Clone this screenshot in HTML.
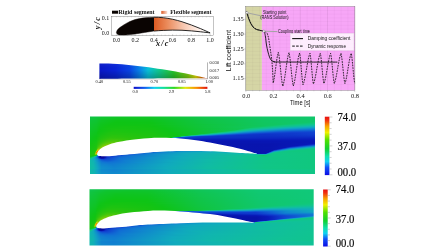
<!DOCTYPE html>
<html><head><meta charset="utf-8"><title>Figure</title>
<style>
html,body{margin:0;padding:0;background:#fff;}
body{width:448px;height:252px;overflow:hidden;}
svg{display:block;filter:blur(0.45px);}
text{font-family:"Liberation Serif",serif;fill:#111;}
.ss{font-family:"Liberation Sans",sans-serif;}
</style></head><body>
<svg width="448" height="252" viewBox="0 0 448 252">
<defs>
<linearGradient id="rb" x1="0" y1="0" x2="0" y2="1">
<stop offset="0" stop-color="#e81010"/><stop offset="0.06" stop-color="#f03010"/><stop offset="0.16" stop-color="#f8a000"/><stop offset="0.27" stop-color="#f0f000"/>
<stop offset="0.40" stop-color="#50e000"/><stop offset="0.55" stop-color="#10d030"/><stop offset="0.68" stop-color="#10e0b0"/><stop offset="0.77" stop-color="#10d0f0"/>
<stop offset="0.87" stop-color="#1050f8"/><stop offset="1" stop-color="#0c0ce4"/>
</linearGradient>
<linearGradient id="rbh" x1="0" y1="0" x2="1" y2="0">
<stop offset="0" stop-color="#1010c8"/><stop offset="0.15" stop-color="#1060f0"/><stop offset="0.28" stop-color="#10d0f0"/><stop offset="0.4" stop-color="#10e0a0"/>
<stop offset="0.55" stop-color="#30d820"/><stop offset="0.7" stop-color="#e0e810"/><stop offset="0.85" stop-color="#f89000"/><stop offset="1" stop-color="#e01010"/>
</linearGradient>
<linearGradient id="wedge" gradientUnits="userSpaceOnUse" x1="99.4" y1="0" x2="207.4" y2="0">
<stop offset="0" stop-color="#0818c8"/><stop offset="0.15" stop-color="#0824d8"/><stop offset="0.28" stop-color="#0844e4"/><stop offset="0.38" stop-color="#0888e8"/><stop offset="0.45" stop-color="#08c0d8"/>
<stop offset="0.55" stop-color="#10c890"/><stop offset="0.69" stop-color="#28c828"/><stop offset="0.82" stop-color="#80d010"/><stop offset="0.895" stop-color="#e8e008"/><stop offset="0.94" stop-color="#f08808"/><stop offset="1" stop-color="#d81808"/>
</linearGradient>
<linearGradient id="wedgeshade" x1="0" y1="0" x2="0" y2="1">
<stop offset="0" stop-color="#fff" stop-opacity="0.05"/><stop offset="0.4" stop-color="#000" stop-opacity="0"/><stop offset="1" stop-color="#000" stop-opacity="0.25"/>
</linearGradient>
<linearGradient id="flex" gradientUnits="userSpaceOnUse" x1="153.9" y1="0" x2="206" y2="0">
<stop offset="0" stop-color="#dc5a22"/><stop offset="0.25" stop-color="#ea8a5a"/><stop offset="0.55" stop-color="#f6c4ac"/><stop offset="0.8" stop-color="#fde8de"/><stop offset="1" stop-color="#fff"/>
</linearGradient>
<filter id="b1" x="-50%" y="-50%" width="200%" height="200%"><feGaussianBlur stdDeviation="1"/></filter>
<filter id="b15" x="-50%" y="-50%" width="200%" height="200%"><feGaussianBlur stdDeviation="1.5"/></filter>
<filter id="b2" x="-50%" y="-50%" width="200%" height="200%"><feGaussianBlur stdDeviation="2"/></filter>
<filter id="b3" x="-50%" y="-50%" width="200%" height="200%"><feGaussianBlur stdDeviation="3"/></filter>
<filter id="b5" x="-50%" y="-50%" width="200%" height="200%"><feGaussianBlur stdDeviation="5"/></filter>
<filter id="b8" x="-50%" y="-50%" width="200%" height="200%"><feGaussianBlur stdDeviation="8"/></filter>
</defs>

<g id="foilplot">
<clipPath id="cr"><rect x="0" y="0" width="153.88" height="60"/></clipPath>
<clipPath id="cf"><rect x="153.88" y="0" width="100" height="60"/></clipPath>
<path d="M116.40,32.43 C116.56,32.05 116.87,30.83 117.34,30.11 C117.81,29.39 118.27,28.87 119.21,28.09 C120.15,27.32 121.55,26.36 122.96,25.46 C124.36,24.56 125.61,23.65 127.64,22.67 C129.67,21.69 132.33,20.37 135.14,19.57 C137.95,18.77 141.39,18.25 144.51,17.86 C147.63,17.48 150.76,17.27 153.88,17.24 C157.00,17.22 160.13,17.37 163.25,17.71 C166.37,18.05 169.50,18.59 172.62,19.26 C175.74,19.93 178.87,20.78 181.99,21.74 C185.11,22.70 188.24,23.83 191.36,24.99 C194.48,26.16 197.61,27.40 200.73,28.71 C203.85,30.03 208.54,32.20 210.10,32.90 L210.10,32.90 C208.54,32.72 203.85,32.15 200.73,31.81 C197.61,31.48 194.48,31.14 191.36,30.88 C188.24,30.63 185.11,30.39 181.99,30.26 C178.87,30.14 175.74,30.08 172.62,30.11 C169.50,30.14 166.37,30.26 163.25,30.42 C160.13,30.57 157.00,30.70 153.88,31.04 C150.76,31.38 147.63,31.94 144.51,32.43 C141.39,32.93 138.26,33.57 135.14,33.98 C132.02,34.40 128.27,34.76 125.77,34.91 C123.27,35.07 121.55,35.04 120.15,34.91 C118.74,34.79 117.96,34.55 117.34,34.14 C116.71,33.73 116.56,32.72 116.40,32.43Z" fill="#0a0402" stroke="#0a0402" stroke-width="0.5" clip-path="url(#cr)"/>
<path d="M116.40,32.43 C116.56,32.05 116.87,30.83 117.34,30.11 C117.81,29.39 118.27,28.87 119.21,28.09 C120.15,27.32 121.55,26.36 122.96,25.46 C124.36,24.56 125.61,23.65 127.64,22.67 C129.67,21.69 132.33,20.37 135.14,19.57 C137.95,18.77 141.39,18.25 144.51,17.86 C147.63,17.48 150.76,17.27 153.88,17.24 C157.00,17.22 160.13,17.37 163.25,17.71 C166.37,18.05 169.50,18.59 172.62,19.26 C175.74,19.93 178.87,20.78 181.99,21.74 C185.11,22.70 188.24,23.83 191.36,24.99 C194.48,26.16 197.61,27.40 200.73,28.71 C203.85,30.03 208.54,32.20 210.10,32.90 L210.10,32.90 C208.54,32.72 203.85,32.15 200.73,31.81 C197.61,31.48 194.48,31.14 191.36,30.88 C188.24,30.63 185.11,30.39 181.99,30.26 C178.87,30.14 175.74,30.08 172.62,30.11 C169.50,30.14 166.37,30.26 163.25,30.42 C160.13,30.57 157.00,30.70 153.88,31.04 C150.76,31.38 147.63,31.94 144.51,32.43 C141.39,32.93 138.26,33.57 135.14,33.98 C132.02,34.40 128.27,34.76 125.77,34.91 C123.27,35.07 121.55,35.04 120.15,34.91 C118.74,34.79 117.96,34.55 117.34,34.14 C116.71,33.73 116.56,32.72 116.40,32.43Z" fill="url(#flex)" stroke="#111" stroke-width="0.9" clip-path="url(#cf)"/>
<rect x="111.20" y="16.50" width="102.40" height="19.00" fill="none" stroke="#555" stroke-width="0.35"/>
<line x1="116.40" y1="35.50" x2="116.40" y2="34.50" stroke="#555" stroke-width="0.3"/>
<text x="116.40" y="42.1" font-size="6" text-anchor="middle" fill="#444">0.0</text>
<line x1="135.14" y1="35.50" x2="135.14" y2="34.50" stroke="#555" stroke-width="0.3"/>
<text x="135.14" y="42.1" font-size="6" text-anchor="middle" fill="#444">0.2</text>
<line x1="153.88" y1="35.50" x2="153.88" y2="34.50" stroke="#555" stroke-width="0.3"/>
<text x="153.88" y="42.1" font-size="6" text-anchor="middle" fill="#444">0.4</text>
<line x1="172.62" y1="35.50" x2="172.62" y2="34.50" stroke="#555" stroke-width="0.3"/>
<text x="172.62" y="42.1" font-size="6" text-anchor="middle" fill="#444">0.6</text>
<line x1="191.36" y1="35.50" x2="191.36" y2="34.50" stroke="#555" stroke-width="0.3"/>
<text x="191.36" y="42.1" font-size="6" text-anchor="middle" fill="#444">0.8</text>
<line x1="210.10" y1="35.50" x2="210.10" y2="34.50" stroke="#555" stroke-width="0.3"/>
<text x="210.10" y="42.1" font-size="6" text-anchor="middle" fill="#444">1.0</text>
<text x="109.2" y="19.9" font-size="6" text-anchor="end" fill="#444">0.1</text>
<line x1="112.65" y1="35.50" x2="112.65" y2="34.70" stroke="#777" stroke-width="0.3"/>
<line x1="112.65" y1="16.50" x2="112.65" y2="17.30" stroke="#777" stroke-width="0.3"/>
<line x1="116.40" y1="35.50" x2="116.40" y2="34.70" stroke="#777" stroke-width="0.3"/>
<line x1="116.40" y1="16.50" x2="116.40" y2="17.30" stroke="#777" stroke-width="0.3"/>
<line x1="120.15" y1="35.50" x2="120.15" y2="34.70" stroke="#777" stroke-width="0.3"/>
<line x1="120.15" y1="16.50" x2="120.15" y2="17.30" stroke="#777" stroke-width="0.3"/>
<line x1="123.90" y1="35.50" x2="123.90" y2="34.70" stroke="#777" stroke-width="0.3"/>
<line x1="123.90" y1="16.50" x2="123.90" y2="17.30" stroke="#777" stroke-width="0.3"/>
<line x1="127.64" y1="35.50" x2="127.64" y2="34.70" stroke="#777" stroke-width="0.3"/>
<line x1="127.64" y1="16.50" x2="127.64" y2="17.30" stroke="#777" stroke-width="0.3"/>
<line x1="131.39" y1="35.50" x2="131.39" y2="34.70" stroke="#777" stroke-width="0.3"/>
<line x1="131.39" y1="16.50" x2="131.39" y2="17.30" stroke="#777" stroke-width="0.3"/>
<line x1="135.14" y1="35.50" x2="135.14" y2="34.70" stroke="#777" stroke-width="0.3"/>
<line x1="135.14" y1="16.50" x2="135.14" y2="17.30" stroke="#777" stroke-width="0.3"/>
<line x1="138.89" y1="35.50" x2="138.89" y2="34.70" stroke="#777" stroke-width="0.3"/>
<line x1="138.89" y1="16.50" x2="138.89" y2="17.30" stroke="#777" stroke-width="0.3"/>
<line x1="142.64" y1="35.50" x2="142.64" y2="34.70" stroke="#777" stroke-width="0.3"/>
<line x1="142.64" y1="16.50" x2="142.64" y2="17.30" stroke="#777" stroke-width="0.3"/>
<line x1="146.38" y1="35.50" x2="146.38" y2="34.70" stroke="#777" stroke-width="0.3"/>
<line x1="146.38" y1="16.50" x2="146.38" y2="17.30" stroke="#777" stroke-width="0.3"/>
<line x1="150.13" y1="35.50" x2="150.13" y2="34.70" stroke="#777" stroke-width="0.3"/>
<line x1="150.13" y1="16.50" x2="150.13" y2="17.30" stroke="#777" stroke-width="0.3"/>
<line x1="153.88" y1="35.50" x2="153.88" y2="34.70" stroke="#777" stroke-width="0.3"/>
<line x1="153.88" y1="16.50" x2="153.88" y2="17.30" stroke="#777" stroke-width="0.3"/>
<line x1="157.63" y1="35.50" x2="157.63" y2="34.70" stroke="#777" stroke-width="0.3"/>
<line x1="157.63" y1="16.50" x2="157.63" y2="17.30" stroke="#777" stroke-width="0.3"/>
<line x1="161.38" y1="35.50" x2="161.38" y2="34.70" stroke="#777" stroke-width="0.3"/>
<line x1="161.38" y1="16.50" x2="161.38" y2="17.30" stroke="#777" stroke-width="0.3"/>
<line x1="165.12" y1="35.50" x2="165.12" y2="34.70" stroke="#777" stroke-width="0.3"/>
<line x1="165.12" y1="16.50" x2="165.12" y2="17.30" stroke="#777" stroke-width="0.3"/>
<line x1="168.87" y1="35.50" x2="168.87" y2="34.70" stroke="#777" stroke-width="0.3"/>
<line x1="168.87" y1="16.50" x2="168.87" y2="17.30" stroke="#777" stroke-width="0.3"/>
<line x1="172.62" y1="35.50" x2="172.62" y2="34.70" stroke="#777" stroke-width="0.3"/>
<line x1="172.62" y1="16.50" x2="172.62" y2="17.30" stroke="#777" stroke-width="0.3"/>
<line x1="176.37" y1="35.50" x2="176.37" y2="34.70" stroke="#777" stroke-width="0.3"/>
<line x1="176.37" y1="16.50" x2="176.37" y2="17.30" stroke="#777" stroke-width="0.3"/>
<line x1="180.12" y1="35.50" x2="180.12" y2="34.70" stroke="#777" stroke-width="0.3"/>
<line x1="180.12" y1="16.50" x2="180.12" y2="17.30" stroke="#777" stroke-width="0.3"/>
<line x1="183.86" y1="35.50" x2="183.86" y2="34.70" stroke="#777" stroke-width="0.3"/>
<line x1="183.86" y1="16.50" x2="183.86" y2="17.30" stroke="#777" stroke-width="0.3"/>
<line x1="187.61" y1="35.50" x2="187.61" y2="34.70" stroke="#777" stroke-width="0.3"/>
<line x1="187.61" y1="16.50" x2="187.61" y2="17.30" stroke="#777" stroke-width="0.3"/>
<line x1="191.36" y1="35.50" x2="191.36" y2="34.70" stroke="#777" stroke-width="0.3"/>
<line x1="191.36" y1="16.50" x2="191.36" y2="17.30" stroke="#777" stroke-width="0.3"/>
<line x1="195.11" y1="35.50" x2="195.11" y2="34.70" stroke="#777" stroke-width="0.3"/>
<line x1="195.11" y1="16.50" x2="195.11" y2="17.30" stroke="#777" stroke-width="0.3"/>
<line x1="198.86" y1="35.50" x2="198.86" y2="34.70" stroke="#777" stroke-width="0.3"/>
<line x1="198.86" y1="16.50" x2="198.86" y2="17.30" stroke="#777" stroke-width="0.3"/>
<line x1="202.60" y1="35.50" x2="202.60" y2="34.70" stroke="#777" stroke-width="0.3"/>
<line x1="202.60" y1="16.50" x2="202.60" y2="17.30" stroke="#777" stroke-width="0.3"/>
<line x1="206.35" y1="35.50" x2="206.35" y2="34.70" stroke="#777" stroke-width="0.3"/>
<line x1="206.35" y1="16.50" x2="206.35" y2="17.30" stroke="#777" stroke-width="0.3"/>
<line x1="210.10" y1="35.50" x2="210.10" y2="34.70" stroke="#777" stroke-width="0.3"/>
<line x1="210.10" y1="16.50" x2="210.10" y2="17.30" stroke="#777" stroke-width="0.3"/>
<text x="109.2" y="35.1" font-size="6" text-anchor="end" fill="#444">0.0</text>
<text x="162.8" y="45.9" font-size="8.2" letter-spacing="1.2" text-anchor="middle" font-weight="bold" font-style="italic" fill="#222">x/c</text>
<text transform="translate(100.3,22.6) rotate(-90)" font-size="8.2" letter-spacing="1.2" text-anchor="middle" font-weight="bold" font-style="italic" fill="#222">y/c</text>
<rect x="112" y="10.7" width="6.2" height="3" fill="#0a0402"/>
<text x="118.6" y="13.9" font-size="5.7" font-weight="bold" fill="#333" textLength="36" lengthAdjust="spacingAndGlyphs">Rigid segment</text>
<linearGradient id="lg2" x1="0" y1="0" x2="1" y2="0"><stop offset="0" stop-color="#dc5a22"/><stop offset="1" stop-color="#fbe0d4"/></linearGradient>
<rect x="161.3" y="10.9" width="6" height="3" fill="url(#lg2)"/>
<text x="170.3" y="13.9" font-size="5.7" font-weight="bold" fill="#333" textLength="41" lengthAdjust="spacingAndGlyphs">Flexible segment</text>
</g>
<g id="wedge">
<path d="M99.40,63.40 C100.90,63.44 105.39,63.50 108.38,63.62 C111.38,63.73 114.37,63.91 117.37,64.10 C120.36,64.30 123.36,64.54 126.35,64.80 C129.34,65.07 132.34,65.36 135.33,65.69 C138.33,66.01 141.32,66.36 144.32,66.74 C147.31,67.12 150.31,67.53 153.30,67.96 C156.29,68.39 159.29,68.84 162.28,69.32 C165.28,69.80 168.27,70.30 171.27,70.83 C174.26,71.35 177.26,71.90 180.25,72.48 C183.24,73.05 186.24,73.64 189.23,74.26 C192.23,74.87 195.22,75.51 198.22,76.17 C201.21,76.82 205.70,77.86 207.20,78.20 L207.20,78.40 C205.70,78.40 201.21,78.38 198.22,78.37 C195.22,78.36 192.23,78.35 189.23,78.35 C186.24,78.34 183.24,78.34 180.25,78.33 C177.26,78.33 174.26,78.33 171.27,78.33 C168.27,78.34 165.28,78.34 162.28,78.35 C159.29,78.36 156.29,78.37 153.30,78.38 C150.31,78.39 147.31,78.41 144.32,78.43 C141.32,78.45 138.33,78.47 135.33,78.50 C132.34,78.53 129.34,78.55 126.35,78.58 C123.36,78.61 120.36,78.65 117.37,78.68 C114.37,78.72 111.38,78.75 108.38,78.79 C105.39,78.82 100.90,78.88 99.40,78.90Z" fill="url(#wedge)"/>
<path d="M99.40,63.40 C100.90,63.44 105.39,63.50 108.38,63.62 C111.38,63.73 114.37,63.91 117.37,64.10 C120.36,64.30 123.36,64.54 126.35,64.80 C129.34,65.07 132.34,65.36 135.33,65.69 C138.33,66.01 141.32,66.36 144.32,66.74 C147.31,67.12 150.31,67.53 153.30,67.96 C156.29,68.39 159.29,68.84 162.28,69.32 C165.28,69.80 168.27,70.30 171.27,70.83 C174.26,71.35 177.26,71.90 180.25,72.48 C183.24,73.05 186.24,73.64 189.23,74.26 C192.23,74.87 195.22,75.51 198.22,76.17 C201.21,76.82 205.70,77.86 207.20,78.20 L207.20,78.40 C205.70,78.40 201.21,78.38 198.22,78.37 C195.22,78.36 192.23,78.35 189.23,78.35 C186.24,78.34 183.24,78.34 180.25,78.33 C177.26,78.33 174.26,78.33 171.27,78.33 C168.27,78.34 165.28,78.34 162.28,78.35 C159.29,78.36 156.29,78.37 153.30,78.38 C150.31,78.39 147.31,78.41 144.32,78.43 C141.32,78.45 138.33,78.47 135.33,78.50 C132.34,78.53 129.34,78.55 126.35,78.58 C123.36,78.61 120.36,78.65 117.37,78.68 C114.37,78.72 111.38,78.75 108.38,78.79 C105.39,78.82 100.90,78.88 99.40,78.90Z" fill="url(#wedgeshade)"/>
<line x1="207.5" y1="62.4" x2="207.5" y2="79" stroke="#444" stroke-width="0.4"/>
<line x1="99.4" y1="79.2" x2="207.5" y2="79.2" stroke="#666" stroke-width="0.25"/>
<text x="99.4" y="83" font-size="4.4" text-anchor="middle" fill="#222">0.40</text>
<text x="126.9" y="83" font-size="4.4" text-anchor="middle" fill="#222">0.55</text>
<text x="154.4" y="83" font-size="4.4" text-anchor="middle" fill="#222">0.70</text>
<text x="181.9" y="83" font-size="4.4" text-anchor="middle" fill="#222">0.85</text>
<text x="209.0" y="83" font-size="4.4" text-anchor="middle" fill="#222">1.00</text>
<text x="209.4" y="64.4" font-size="4.3" fill="#222">0.030</text>
<text x="209.4" y="71.6" font-size="4.3" fill="#222">0.017</text>
<text x="209.4" y="79.4" font-size="4.3" fill="#222">0.005</text>
<rect x="133.7" y="86.8" width="73.7" height="2.1" fill="url(#rbh)"/>
<text x="135.2" y="92.7" font-size="4.4" text-anchor="middle" fill="#222">0.0</text>
<text x="171.5" y="92.7" font-size="4.4" text-anchor="middle" fill="#222">2.9</text>
<text x="207.6" y="92.7" font-size="4.4" text-anchor="middle" fill="#222">5.8</text>
</g>
<g id="liftplot">
<rect x="245.70" y="6.40" width="16.20" height="83.90" fill="#d5d5a5"/>
<rect x="261.9" y="6.40" width="93.00" height="83.90" fill="#f7a6f7"/>
<line x1="245.90" y1="6.40" x2="245.90" y2="90.30" stroke="#503050" stroke-opacity="0.30" stroke-width="0.3"/>
<line x1="252.70" y1="6.40" x2="252.70" y2="90.30" stroke="#503050" stroke-opacity="0.10" stroke-width="0.3"/>
<line x1="259.50" y1="6.40" x2="259.50" y2="90.30" stroke="#503050" stroke-opacity="0.10" stroke-width="0.3"/>
<line x1="266.30" y1="6.40" x2="266.30" y2="90.30" stroke="#503050" stroke-opacity="0.10" stroke-width="0.3"/>
<line x1="273.10" y1="6.40" x2="273.10" y2="90.30" stroke="#503050" stroke-opacity="0.30" stroke-width="0.3"/>
<line x1="279.90" y1="6.40" x2="279.90" y2="90.30" stroke="#503050" stroke-opacity="0.10" stroke-width="0.3"/>
<line x1="286.70" y1="6.40" x2="286.70" y2="90.30" stroke="#503050" stroke-opacity="0.10" stroke-width="0.3"/>
<line x1="293.50" y1="6.40" x2="293.50" y2="90.30" stroke="#503050" stroke-opacity="0.10" stroke-width="0.3"/>
<line x1="300.30" y1="6.40" x2="300.30" y2="90.30" stroke="#503050" stroke-opacity="0.30" stroke-width="0.3"/>
<line x1="307.10" y1="6.40" x2="307.10" y2="90.30" stroke="#503050" stroke-opacity="0.10" stroke-width="0.3"/>
<line x1="313.90" y1="6.40" x2="313.90" y2="90.30" stroke="#503050" stroke-opacity="0.10" stroke-width="0.3"/>
<line x1="320.70" y1="6.40" x2="320.70" y2="90.30" stroke="#503050" stroke-opacity="0.10" stroke-width="0.3"/>
<line x1="327.50" y1="6.40" x2="327.50" y2="90.30" stroke="#503050" stroke-opacity="0.30" stroke-width="0.3"/>
<line x1="334.30" y1="6.40" x2="334.30" y2="90.30" stroke="#503050" stroke-opacity="0.10" stroke-width="0.3"/>
<line x1="341.10" y1="6.40" x2="341.10" y2="90.30" stroke="#503050" stroke-opacity="0.10" stroke-width="0.3"/>
<line x1="347.90" y1="6.40" x2="347.90" y2="90.30" stroke="#503050" stroke-opacity="0.10" stroke-width="0.3"/>
<line x1="354.70" y1="6.40" x2="354.70" y2="90.30" stroke="#503050" stroke-opacity="0.30" stroke-width="0.3"/>
<line x1="245.70" y1="84.64" x2="354.90" y2="84.64" stroke="#503050" stroke-opacity="0.10" stroke-width="0.3"/>
<line x1="245.70" y1="80.93" x2="354.90" y2="80.93" stroke="#503050" stroke-opacity="0.10" stroke-width="0.3"/>
<line x1="245.70" y1="77.22" x2="354.90" y2="77.22" stroke="#503050" stroke-opacity="0.10" stroke-width="0.3"/>
<line x1="245.70" y1="73.50" x2="354.90" y2="73.50" stroke="#503050" stroke-opacity="0.10" stroke-width="0.3"/>
<line x1="245.70" y1="69.79" x2="354.90" y2="69.79" stroke="#503050" stroke-opacity="0.10" stroke-width="0.3"/>
<line x1="245.70" y1="66.08" x2="354.90" y2="66.08" stroke="#503050" stroke-opacity="0.10" stroke-width="0.3"/>
<line x1="245.70" y1="62.37" x2="354.90" y2="62.37" stroke="#503050" stroke-opacity="0.10" stroke-width="0.3"/>
<line x1="245.70" y1="58.65" x2="354.90" y2="58.65" stroke="#503050" stroke-opacity="0.10" stroke-width="0.3"/>
<line x1="245.70" y1="54.94" x2="354.90" y2="54.94" stroke="#503050" stroke-opacity="0.10" stroke-width="0.3"/>
<line x1="245.70" y1="51.23" x2="354.90" y2="51.23" stroke="#503050" stroke-opacity="0.10" stroke-width="0.3"/>
<line x1="245.70" y1="47.52" x2="354.90" y2="47.52" stroke="#503050" stroke-opacity="0.10" stroke-width="0.3"/>
<line x1="245.70" y1="43.80" x2="354.90" y2="43.80" stroke="#503050" stroke-opacity="0.10" stroke-width="0.3"/>
<line x1="245.70" y1="40.09" x2="354.90" y2="40.09" stroke="#503050" stroke-opacity="0.10" stroke-width="0.3"/>
<line x1="245.70" y1="36.38" x2="354.90" y2="36.38" stroke="#503050" stroke-opacity="0.10" stroke-width="0.3"/>
<line x1="245.70" y1="32.67" x2="354.90" y2="32.67" stroke="#503050" stroke-opacity="0.10" stroke-width="0.3"/>
<line x1="245.70" y1="28.95" x2="354.90" y2="28.95" stroke="#503050" stroke-opacity="0.10" stroke-width="0.3"/>
<line x1="245.70" y1="25.24" x2="354.90" y2="25.24" stroke="#503050" stroke-opacity="0.10" stroke-width="0.3"/>
<line x1="245.70" y1="21.53" x2="354.90" y2="21.53" stroke="#503050" stroke-opacity="0.10" stroke-width="0.3"/>
<line x1="245.70" y1="17.82" x2="354.90" y2="17.82" stroke="#503050" stroke-opacity="0.10" stroke-width="0.3"/>
<line x1="245.70" y1="14.10" x2="354.90" y2="14.10" stroke="#503050" stroke-opacity="0.10" stroke-width="0.3"/>
<line x1="245.70" y1="10.39" x2="354.90" y2="10.39" stroke="#503050" stroke-opacity="0.10" stroke-width="0.3"/>
<rect x="245.70" y="6.40" width="109.20" height="83.90" fill="none" stroke="#666" stroke-width="0.35"/>
<line x1="245.90" y1="90.30" x2="245.90" y2="91.90" stroke="#888" stroke-width="0.35"/>
<line x1="252.70" y1="90.30" x2="252.70" y2="91.20" stroke="#888" stroke-width="0.35"/>
<line x1="259.50" y1="90.30" x2="259.50" y2="91.20" stroke="#888" stroke-width="0.35"/>
<line x1="266.30" y1="90.30" x2="266.30" y2="91.20" stroke="#888" stroke-width="0.35"/>
<line x1="273.10" y1="90.30" x2="273.10" y2="91.90" stroke="#888" stroke-width="0.35"/>
<line x1="279.90" y1="90.30" x2="279.90" y2="91.20" stroke="#888" stroke-width="0.35"/>
<line x1="286.70" y1="90.30" x2="286.70" y2="91.20" stroke="#888" stroke-width="0.35"/>
<line x1="293.50" y1="90.30" x2="293.50" y2="91.20" stroke="#888" stroke-width="0.35"/>
<line x1="300.30" y1="90.30" x2="300.30" y2="91.90" stroke="#888" stroke-width="0.35"/>
<line x1="307.10" y1="90.30" x2="307.10" y2="91.20" stroke="#888" stroke-width="0.35"/>
<line x1="313.90" y1="90.30" x2="313.90" y2="91.20" stroke="#888" stroke-width="0.35"/>
<line x1="320.70" y1="90.30" x2="320.70" y2="91.20" stroke="#888" stroke-width="0.35"/>
<line x1="327.50" y1="90.30" x2="327.50" y2="91.90" stroke="#888" stroke-width="0.35"/>
<line x1="334.30" y1="90.30" x2="334.30" y2="91.20" stroke="#888" stroke-width="0.35"/>
<line x1="341.10" y1="90.30" x2="341.10" y2="91.20" stroke="#888" stroke-width="0.35"/>
<line x1="347.90" y1="90.30" x2="347.90" y2="91.20" stroke="#888" stroke-width="0.35"/>
<line x1="354.70" y1="90.30" x2="354.70" y2="91.90" stroke="#888" stroke-width="0.35"/>
<line x1="244.10" y1="78.70" x2="245.70" y2="78.70" stroke="#888" stroke-width="0.35"/>
<line x1="244.10" y1="63.85" x2="245.70" y2="63.85" stroke="#888" stroke-width="0.35"/>
<line x1="244.10" y1="49.00" x2="245.70" y2="49.00" stroke="#888" stroke-width="0.35"/>
<line x1="244.10" y1="34.15" x2="245.70" y2="34.15" stroke="#888" stroke-width="0.35"/>
<line x1="244.10" y1="19.30" x2="245.70" y2="19.30" stroke="#888" stroke-width="0.35"/>
<path d="M246.30,11.00 C246.50,11.67 247.05,13.58 247.50,15.00 C247.95,16.42 248.50,18.17 249.00,19.50 C249.50,20.83 249.83,21.75 250.50,23.00 C251.17,24.25 252.08,25.97 253.00,27.00 C253.92,28.03 255.00,28.70 256.00,29.20 C257.00,29.70 258.17,29.77 259.00,30.00 C259.83,30.23 260.33,30.43 261.00,30.60 C261.67,30.77 262.42,30.68 263.00,31.00 C263.58,31.32 264.08,31.50 264.50,32.50 C264.92,33.50 265.17,34.92 265.50,37.00 C265.83,39.08 266.08,42.50 266.50,45.00 C266.92,47.50 267.50,50.00 268.00,52.00 C268.50,54.00 268.92,55.58 269.50,57.00 C270.08,58.42 270.67,59.72 271.50,60.50 C272.33,61.28 273.08,61.45 274.50,61.70 C275.92,61.95 269.52,61.93 280.00,62.00 C290.48,62.07 327.83,62.08 337.40,62.10" fill="none" stroke="#1a1a1a" stroke-width="0.95" stroke-linejoin="round"/>
<path d="M246.80,11.50 L248.00,15.50 L249.50,20.00 L251.00,23.50 L253.50,27.30 L256.50,29.50 L259.50,30.30 L262.00,30.90 L265.00,31.50 L267.30,33.50 L268.60,38.00 L269.80,46.00 L271.00,54.00 L272.00,62.00 L272.70,72.00 L273.20,83.00 L273.75,80.82 L274.40,77.23 L275.05,72.74 L275.70,67.75 L276.35,62.76 L277.00,58.27 L277.65,54.68 L278.30,52.30 L278.86,54.92 L279.43,58.86 L279.99,63.81 L280.55,69.30 L281.11,74.79 L281.68,79.74 L282.24,83.68 L282.80,86.30 L283.57,83.70 L284.35,79.79 L285.12,74.89 L285.90,69.45 L286.68,64.01 L287.45,59.11 L288.23,55.20 L289.00,52.60 L289.54,55.18 L290.07,59.05 L290.61,63.91 L291.15,69.30 L291.69,74.69 L292.23,79.55 L292.76,83.42 L293.30,86.00 L294.09,83.45 L294.88,79.63 L295.66,74.83 L296.45,69.50 L297.24,64.17 L298.03,59.37 L298.81,55.55 L299.60,53.00 L300.03,55.45 L300.45,59.14 L300.88,63.76 L301.30,68.90 L301.73,74.04 L302.15,78.66 L302.57,82.35 L303.00,84.80 L303.88,82.37 L304.75,78.72 L305.62,74.14 L306.50,69.05 L307.38,63.96 L308.25,59.38 L309.12,55.73 L310.00,53.30 L310.43,55.67 L310.85,59.23 L311.27,63.69 L311.70,68.65 L312.12,73.61 L312.55,78.07 L312.97,81.63 L313.40,84.00 L314.26,81.63 L315.12,78.07 L315.99,73.61 L316.85,68.65 L317.71,63.69 L318.57,59.23 L319.44,55.67 L320.30,53.30 L320.75,55.64 L321.20,59.15 L321.65,63.56 L322.10,68.45 L322.55,73.34 L323.00,77.75 L323.45,81.26 L323.90,83.60 L324.74,81.26 L325.57,77.75 L326.41,73.34 L327.25,68.45 L328.09,63.56 L328.93,59.15 L329.76,55.64 L330.60,53.30 L331.06,55.63 L331.53,59.13 L331.99,63.52 L332.45,68.40 L332.91,73.28 L333.38,77.67 L333.84,81.17 L334.30,83.50 L335.14,81.17 L335.98,77.67 L336.81,73.28 L337.65,68.40 L338.49,63.52 L339.32,59.13 L340.16,55.63 L341.00,53.30 L341.49,55.63 L341.98,59.13 L342.46,63.52 L342.95,68.40 L343.44,73.28 L343.92,77.67 L344.41,81.17 L344.90,83.50 L345.69,81.17 L346.47,77.67 L347.26,73.28 L348.05,68.40 L348.84,63.52 L349.62,59.13 L350.41,55.63 L351.20,53.30 L351.65,55.63 L352.10,59.13 L352.55,63.52 L353.00,68.40 L353.45,73.28 L353.90,77.67 L354.35,81.17 L354.80,83.50" fill="none" stroke="#111" stroke-width="0.85" stroke-dasharray="1.7 1.0" stroke-linejoin="round"/>
<line x1="247" y1="12.8" x2="260" y2="15.6" stroke="#a4a4a4" stroke-width="1"/>
<circle cx="246.9" cy="12.6" r="1.1" fill="#fff" stroke="#888" stroke-width="0.5"/>
<line x1="264" y1="31.2" x2="277.5" y2="31.6" stroke="#a4a4a4" stroke-width="1"/>
<circle cx="263.8" cy="31.2" r="1.1" fill="#fff" stroke="#888" stroke-width="0.5"/>
<text class="ss" x="262.9" y="14.4" font-size="4.7" fill="#333" textLength="23.5" lengthAdjust="spacingAndGlyphs">Starting point</text>
<text class="ss" x="260.2" y="18.9" font-size="4.7" fill="#333" textLength="28.4" lengthAdjust="spacingAndGlyphs">(RANS Solution)</text>
<text class="ss" x="278" y="33.3" font-size="4.7" fill="#333" textLength="32" lengthAdjust="spacingAndGlyphs">Coupling start time</text>
<rect x="290.3" y="33.3" width="63.6" height="17.1" fill="#fff" fill-opacity="0.8" stroke="#ddd" stroke-width="0.3"/>
<line x1="292.2" y1="38.6" x2="303" y2="38.6" stroke="#111" stroke-width="1.1"/>
<line x1="292.2" y1="46.1" x2="303" y2="46.1" stroke="#111" stroke-width="1.0" stroke-dasharray="2.6 1.3"/>
<text class="ss" x="307.7" y="40.4" font-size="5.9" fill="#222" textLength="42.6" lengthAdjust="spacingAndGlyphs">Damping coefficient</text>
<text class="ss" x="307.7" y="47.9" font-size="5.9" fill="#222" textLength="38.3" lengthAdjust="spacingAndGlyphs">Dynamic response</text>
<text x="243.6" y="21.40" font-size="6.4" text-anchor="end" fill="#4a4a4a">1.35</text>
<text x="243.6" y="35.95" font-size="6.4" text-anchor="end" fill="#4a4a4a">1.30</text>
<text x="243.6" y="50.50" font-size="6.4" text-anchor="end" fill="#4a4a4a">1.25</text>
<text x="243.6" y="65.05" font-size="6.4" text-anchor="end" fill="#4a4a4a">1.20</text>
<text x="243.6" y="79.60" font-size="6.4" text-anchor="end" fill="#4a4a4a">1.15</text>
<text x="246.20" y="97.9" font-size="6.4" text-anchor="middle" fill="#4a4a4a">0.0</text>
<text x="273.40" y="97.9" font-size="6.4" text-anchor="middle" fill="#4a4a4a">0.2</text>
<text x="300.60" y="97.9" font-size="6.4" text-anchor="middle" fill="#4a4a4a">0.4</text>
<text x="327.80" y="97.9" font-size="6.4" text-anchor="middle" fill="#4a4a4a">0.6</text>
<text x="355.00" y="97.9" font-size="6.4" text-anchor="middle" fill="#4a4a4a">0.8</text>
<text class="ss" x="300.2" y="104.9" font-size="6.4" text-anchor="middle" fill="#222" textLength="20.4" lengthAdjust="spacingAndGlyphs">Time [s]</text>
<text class="ss" transform="translate(230.6,50.6) rotate(-90)" font-size="6.5" text-anchor="middle" fill="#222" textLength="41.5" lengthAdjust="spacingAndGlyphs">Lift coefficient</text>
</g>
<g id="field1">
<defs><linearGradient id="p0" gradientUnits="userSpaceOnUse" x1="89.5" x2="315.5" y1="0" y2="0"><stop offset="0" stop-color="#10c44c"/><stop offset="0.031" stop-color="#10c444"/><stop offset="0.0531" stop-color="#0fc438"/><stop offset="0.1283" stop-color="#0fc42b"/><stop offset="0.2655" stop-color="#0fc42c"/><stop offset="0.5177" stop-color="#10c550"/><stop offset="0.7788" stop-color="#10c766"/><stop offset="1" stop-color="#10c76c"/></linearGradient>
<linearGradient id="p1" gradientUnits="userSpaceOnUse" x1="89.5" x2="315.5" y1="0" y2="0"><stop offset="0" stop-color="#10c444"/><stop offset="0.031" stop-color="#10c43c"/><stop offset="0.0531" stop-color="#0fc430"/><stop offset="0.1283" stop-color="#0fc424"/><stop offset="0.2655" stop-color="#0fc425"/><stop offset="0.5133" stop-color="#10c44c"/><stop offset="0.7743" stop-color="#10c664"/><stop offset="1" stop-color="#10c76b"/></linearGradient>
<linearGradient id="p2" gradientUnits="userSpaceOnUse" x1="89.5" x2="315.5" y1="0" y2="0"><stop offset="0" stop-color="#10c440"/><stop offset="0.031" stop-color="#0fc437"/><stop offset="0.0531" stop-color="#0fc42b"/><stop offset="0.1283" stop-color="#0ec41f"/><stop offset="0.2655" stop-color="#0fc421"/><stop offset="0.5133" stop-color="#10c449"/><stop offset="0.7743" stop-color="#10c663"/><stop offset="1" stop-color="#10c76b"/></linearGradient>
<linearGradient id="p3" gradientUnits="userSpaceOnUse" x1="89.5" x2="315.5" y1="0" y2="0"><stop offset="0" stop-color="#10c43c"/><stop offset="0.031" stop-color="#0fc434"/><stop offset="0.0531" stop-color="#0fc427"/><stop offset="0.1239" stop-color="#0ec41b"/><stop offset="0.2655" stop-color="#0ec41e"/><stop offset="0.5133" stop-color="#10c447"/><stop offset="0.7743" stop-color="#10c662"/><stop offset="1" stop-color="#10c76a"/></linearGradient>
<linearGradient id="p4" gradientUnits="userSpaceOnUse" x1="89.5" x2="315.5" y1="0" y2="0"><stop offset="0" stop-color="#0fc439"/><stop offset="0.031" stop-color="#0fc431"/><stop offset="0.0531" stop-color="#0fc424"/><stop offset="0.1239" stop-color="#0ec418"/><stop offset="0.2655" stop-color="#0ec41b"/><stop offset="0.5133" stop-color="#10c445"/><stop offset="0.7743" stop-color="#10c661"/><stop offset="1" stop-color="#10c76a"/></linearGradient>
<linearGradient id="p5" gradientUnits="userSpaceOnUse" x1="89.5" x2="315.5" y1="0" y2="0"><stop offset="0" stop-color="#0fc437"/><stop offset="0.031" stop-color="#0fc42f"/><stop offset="0.0487" stop-color="#0fc424"/><stop offset="0.1195" stop-color="#0ec416"/><stop offset="0.2655" stop-color="#0ec419"/><stop offset="0.5088" stop-color="#10c443"/><stop offset="0.7743" stop-color="#10c661"/><stop offset="1" stop-color="#10c76a"/></linearGradient>
<linearGradient id="p6" gradientUnits="userSpaceOnUse" x1="89.5" x2="315.5" y1="0" y2="0"><stop offset="0" stop-color="#0fc436"/><stop offset="0.031" stop-color="#0fc42d"/><stop offset="0.0487" stop-color="#0fc421"/><stop offset="0.115" stop-color="#0ec414"/><stop offset="0.2655" stop-color="#0ec416"/><stop offset="0.5088" stop-color="#10c442"/><stop offset="0.7743" stop-color="#10c660"/><stop offset="0.9602" stop-color="#10c76a"/><stop offset="1" stop-color="#10c874"/></linearGradient>
<linearGradient id="p7" gradientUnits="userSpaceOnUse" x1="89.5" x2="315.5" y1="0" y2="0"><stop offset="0" stop-color="#0fc434"/><stop offset="0.031" stop-color="#0fc42b"/><stop offset="0.0487" stop-color="#0ec41f"/><stop offset="0.1062" stop-color="#0fc414"/><stop offset="0.2788" stop-color="#0ec417"/><stop offset="0.5088" stop-color="#10c441"/><stop offset="0.7743" stop-color="#10c65f"/><stop offset="0.8982" stop-color="#10c767"/><stop offset="1" stop-color="#10c780"/></linearGradient>
<linearGradient id="p8" gradientUnits="userSpaceOnUse" x1="89.5" x2="315.5" y1="0" y2="0"><stop offset="0" stop-color="#0fc432"/><stop offset="0.031" stop-color="#0fc429"/><stop offset="0.0487" stop-color="#0ec41d"/><stop offset="0.0929" stop-color="#0fc414"/><stop offset="0.2611" stop-color="#10c414"/><stop offset="0.4336" stop-color="#0fc433"/><stop offset="0.7566" stop-color="#10c65e"/><stop offset="0.8451" stop-color="#10c665"/><stop offset="0.9204" stop-color="#10c77c"/><stop offset="1" stop-color="#10c48f"/></linearGradient>
<linearGradient id="p9" gradientUnits="userSpaceOnUse" x1="89.5" x2="315.5" y1="0" y2="0"><stop offset="0" stop-color="#0fc431"/><stop offset="0.031" stop-color="#0fc428"/><stop offset="0.0487" stop-color="#0ec41b"/><stop offset="0.0885" stop-color="#10c413"/><stop offset="0.2566" stop-color="#11c413"/><stop offset="0.323" stop-color="#0ec41b"/><stop offset="0.5044" stop-color="#10c43e"/><stop offset="0.7699" stop-color="#10c65e"/><stop offset="0.8142" stop-color="#10c768"/><stop offset="0.8628" stop-color="#10c77d"/><stop offset="0.9823" stop-color="#10be9e"/><stop offset="1" stop-color="#10bca3"/></linearGradient>
<linearGradient id="p10" gradientUnits="userSpaceOnUse" x1="89.5" x2="315.5" y1="0" y2="0"><stop offset="0" stop-color="#0fc430"/><stop offset="0.031" stop-color="#0fc426"/><stop offset="0.0442" stop-color="#0ec41b"/><stop offset="0.0796" stop-color="#11c413"/><stop offset="0.1903" stop-color="#15c412"/><stop offset="0.2876" stop-color="#0fc414"/><stop offset="0.5133" stop-color="#10c43e"/><stop offset="0.7566" stop-color="#10c661"/><stop offset="0.8186" stop-color="#10c77e"/><stop offset="0.9646" stop-color="#10b6af"/><stop offset="1" stop-color="#10b0b6"/></linearGradient>
<linearGradient id="p11" gradientUnits="userSpaceOnUse" x1="89.5" x2="315.5" y1="0" y2="0"><stop offset="0" stop-color="#0fc42e"/><stop offset="0.031" stop-color="#0fc425"/><stop offset="0.0442" stop-color="#0ec419"/><stop offset="0.0708" stop-color="#11c413"/><stop offset="0.146" stop-color="#16c412"/><stop offset="0.2743" stop-color="#12c413"/><stop offset="0.3319" stop-color="#0ec419"/><stop offset="0.5" stop-color="#10c43b"/><stop offset="0.708" stop-color="#10c65a"/><stop offset="0.7655" stop-color="#10c77c"/><stop offset="0.8407" stop-color="#10be9e"/><stop offset="0.885" stop-color="#10b5af"/><stop offset="0.9912" stop-color="#10a1c4"/><stop offset="1" stop-color="#109fc4"/></linearGradient>
<linearGradient id="p12" gradientUnits="userSpaceOnUse" x1="89.5" x2="315.5" y1="0" y2="0"><stop offset="0" stop-color="#0fc42d"/><stop offset="0.031" stop-color="#0fc423"/><stop offset="0.0442" stop-color="#0ec417"/><stop offset="0.0929" stop-color="#16c412"/><stop offset="0.2611" stop-color="#15c412"/><stop offset="0.3319" stop-color="#0ec417"/><stop offset="0.5" stop-color="#0fc439"/><stop offset="0.677" stop-color="#10c553"/><stop offset="0.6991" stop-color="#10c768"/><stop offset="0.7124" stop-color="#10c878"/><stop offset="0.7832" stop-color="#10bf9c"/><stop offset="0.8407" stop-color="#10afb7"/><stop offset="0.8894" stop-color="#10a3c3"/><stop offset="1" stop-color="#108acd"/></linearGradient>
<linearGradient id="p13" gradientUnits="userSpaceOnUse" x1="89.5" x2="315.5" y1="0" y2="0"><stop offset="0" stop-color="#0fc42b"/><stop offset="0.031" stop-color="#0fc421"/><stop offset="0.0442" stop-color="#0ec415"/><stop offset="0.1195" stop-color="#1ac411"/><stop offset="0.2743" stop-color="#15c412"/><stop offset="0.3407" stop-color="#0ec417"/><stop offset="0.5" stop-color="#0fc438"/><stop offset="0.6549" stop-color="#10c551"/><stop offset="0.677" stop-color="#10c76d"/><stop offset="0.6903" stop-color="#10c77e"/><stop offset="0.7478" stop-color="#10baa8"/><stop offset="0.8186" stop-color="#10a2c3"/><stop offset="0.8938" stop-color="#1089ce"/><stop offset="1" stop-color="#1075d3"/></linearGradient>
<linearGradient id="p14" gradientUnits="userSpaceOnUse" x1="89.5" x2="315.5" y1="0" y2="0"><stop offset="0" stop-color="#0fc42a"/><stop offset="0.031" stop-color="#0ec420"/><stop offset="0.0442" stop-color="#0fc414"/><stop offset="0.115" stop-color="#1bc411"/><stop offset="0.2743" stop-color="#16c412"/><stop offset="0.3496" stop-color="#0ec418"/><stop offset="0.5" stop-color="#0fc437"/><stop offset="0.6239" stop-color="#10c44c"/><stop offset="0.6416" stop-color="#10c65e"/><stop offset="0.6549" stop-color="#10c877"/><stop offset="0.6903" stop-color="#10bf9d"/><stop offset="0.7124" stop-color="#10b4b1"/><stop offset="0.7566" stop-color="#10a1c3"/><stop offset="0.8407" stop-color="#107ed1"/><stop offset="0.9292" stop-color="#1069d3"/><stop offset="1" stop-color="#105fd3"/></linearGradient>
<linearGradient id="p15" gradientUnits="userSpaceOnUse" x1="89.5" x2="315.5" y1="0" y2="0"><stop offset="0" stop-color="#0fc428"/><stop offset="0.031" stop-color="#0ec41e"/><stop offset="0.0398" stop-color="#0ec414"/><stop offset="0.1062" stop-color="#1dc410"/><stop offset="0.2699" stop-color="#18c412"/><stop offset="0.354" stop-color="#0ec417"/><stop offset="0.5" stop-color="#0fc436"/><stop offset="0.5841" stop-color="#10c444"/><stop offset="0.6062" stop-color="#10c65d"/><stop offset="0.6239" stop-color="#10c87a"/><stop offset="0.6504" stop-color="#10c296"/><stop offset="0.6726" stop-color="#10b5b0"/><stop offset="0.7035" stop-color="#109fc4"/><stop offset="0.7611" stop-color="#1080d0"/><stop offset="0.8363" stop-color="#1063d3"/><stop offset="0.8982" stop-color="#1055d2"/><stop offset="1" stop-color="#104dd1"/></linearGradient>
<linearGradient id="p16" gradientUnits="userSpaceOnUse" x1="89.5" x2="315.5" y1="0" y2="0"><stop offset="0" stop-color="#0fc427"/><stop offset="0.031" stop-color="#0ec41c"/><stop offset="0.0354" stop-color="#0ec415"/><stop offset="0.0973" stop-color="#1fc410"/><stop offset="0.2699" stop-color="#19c411"/><stop offset="0.3628" stop-color="#0ec417"/><stop offset="0.5" stop-color="#0fc434"/><stop offset="0.5442" stop-color="#10c43c"/><stop offset="0.5619" stop-color="#10c551"/><stop offset="0.5841" stop-color="#10c87a"/><stop offset="0.615" stop-color="#10be9d"/><stop offset="0.646" stop-color="#10abbc"/><stop offset="0.6858" stop-color="#1088ce"/><stop offset="0.7434" stop-color="#1066d3"/><stop offset="0.823" stop-color="#104bd1"/><stop offset="0.8982" stop-color="#1042d0"/><stop offset="1" stop-color="#1042d0"/></linearGradient>
<linearGradient id="p17" gradientUnits="userSpaceOnUse" x1="89.5" x2="315.5" y1="0" y2="0"><stop offset="0" stop-color="#0fc425"/><stop offset="0.031" stop-color="#0ec41a"/><stop offset="0.0354" stop-color="#0fc414"/><stop offset="0.0841" stop-color="#1fc410"/><stop offset="0.1504" stop-color="#21c410"/><stop offset="0.2788" stop-color="#1ac411"/><stop offset="0.3717" stop-color="#0ec417"/><stop offset="0.5088" stop-color="#0fc437"/><stop offset="0.5221" stop-color="#10c44b"/><stop offset="0.5442" stop-color="#10c77c"/><stop offset="0.5708" stop-color="#10bda1"/><stop offset="0.5929" stop-color="#10adba"/><stop offset="0.6283" stop-color="#108dcd"/><stop offset="0.6726" stop-color="#1069d3"/><stop offset="0.7257" stop-color="#104bd1"/><stop offset="0.7832" stop-color="#0f3dce"/><stop offset="0.8894" stop-color="#0f39cc"/><stop offset="1" stop-color="#1040d0"/></linearGradient>
<linearGradient id="p18" gradientUnits="userSpaceOnUse" x1="89.5" x2="315.5" y1="0" y2="0"><stop offset="0" stop-color="#0fc424"/><stop offset="0.031" stop-color="#0ec419"/><stop offset="0.0398" stop-color="#13c413"/><stop offset="0.0929" stop-color="#23c40f"/><stop offset="0.1903" stop-color="#21c410"/><stop offset="0.2876" stop-color="#1ac411"/><stop offset="0.3805" stop-color="#0ec417"/><stop offset="0.469" stop-color="#0fc42f"/><stop offset="0.4779" stop-color="#10c440"/><stop offset="0.4956" stop-color="#10c876"/><stop offset="0.5177" stop-color="#10c09a"/><stop offset="0.5398" stop-color="#10aeb9"/><stop offset="0.5664" stop-color="#1091cc"/><stop offset="0.6062" stop-color="#106ad3"/><stop offset="0.6504" stop-color="#104ad1"/><stop offset="0.7035" stop-color="#0f39cc"/><stop offset="0.7699" stop-color="#0d32c8"/><stop offset="1" stop-color="#0f3dce"/></linearGradient>
<linearGradient id="p19" gradientUnits="userSpaceOnUse" x1="89.5" x2="315.5" y1="0" y2="0"><stop offset="0" stop-color="#0fc422"/><stop offset="0.031" stop-color="#0ec417"/><stop offset="0.0531" stop-color="#1bc411"/><stop offset="0.1062" stop-color="#28c40e"/><stop offset="0.2832" stop-color="#1cc411"/><stop offset="0.385" stop-color="#0ec417"/><stop offset="0.4292" stop-color="#0fc424"/><stop offset="0.4336" stop-color="#0fc42f"/><stop offset="0.4425" stop-color="#10c555"/><stop offset="0.4513" stop-color="#10c77d"/><stop offset="0.4646" stop-color="#10be9d"/><stop offset="0.4779" stop-color="#10afb7"/><stop offset="0.4956" stop-color="#1097c9"/><stop offset="0.5354" stop-color="#106cd4"/><stop offset="0.5664" stop-color="#104dd1"/><stop offset="0.6018" stop-color="#0f3bcd"/><stop offset="0.6681" stop-color="#0d31c7"/><stop offset="0.792" stop-color="#0d31c7"/><stop offset="1" stop-color="#0e38cb"/></linearGradient>
<linearGradient id="p20" gradientUnits="userSpaceOnUse" x1="89.5" x2="315.5" y1="0" y2="0"><stop offset="0" stop-color="#0fc421"/><stop offset="0.031" stop-color="#0ec415"/><stop offset="0.0531" stop-color="#1ec410"/><stop offset="0.1018" stop-color="#2bc40d"/><stop offset="0.2876" stop-color="#1dc411"/><stop offset="0.3938" stop-color="#0ec417"/><stop offset="0.3982" stop-color="#0fc428"/><stop offset="0.4027" stop-color="#10c449"/><stop offset="0.4071" stop-color="#10c874"/><stop offset="0.4115" stop-color="#10c58d"/><stop offset="0.4159" stop-color="#10baa7"/><stop offset="0.4204" stop-color="#10acbb"/><stop offset="0.4248" stop-color="#109ac7"/><stop offset="0.4292" stop-color="#108bcd"/><stop offset="0.4469" stop-color="#106ad3"/><stop offset="0.469" stop-color="#104dd1"/><stop offset="0.4956" stop-color="#0f3cce"/><stop offset="0.5708" stop-color="#0d33c8"/><stop offset="0.7788" stop-color="#0c2ec5"/><stop offset="1" stop-color="#0d32c7"/></linearGradient>
<linearGradient id="p21" gradientUnits="userSpaceOnUse" x1="89.5" x2="315.5" y1="0" y2="0"><stop offset="0" stop-color="#0ec41f"/><stop offset="0.031" stop-color="#0fc414"/><stop offset="0.0442" stop-color="#1cc411"/><stop offset="0.0929" stop-color="#2ec40c"/><stop offset="0.1416" stop-color="#2cc40d"/><stop offset="0.3009" stop-color="#1cc411"/><stop offset="0.3584" stop-color="#13c413"/><stop offset="0.3628" stop-color="#0ec41c"/><stop offset="0.3717" stop-color="#10c684"/><stop offset="0.3761" stop-color="#10baa8"/><stop offset="0.3805" stop-color="#10a5c2"/><stop offset="0.385" stop-color="#108ace"/><stop offset="0.3894" stop-color="#1072d3"/><stop offset="0.3938" stop-color="#105cd2"/><stop offset="0.3982" stop-color="#104dd1"/><stop offset="0.4027" stop-color="#1045d0"/><stop offset="0.5044" stop-color="#0d32c8"/><stop offset="0.7699" stop-color="#0c2ac3"/><stop offset="1" stop-color="#0c2ac3"/></linearGradient>
<linearGradient id="p22" gradientUnits="userSpaceOnUse" x1="89.5" x2="315.5" y1="0" y2="0"><stop offset="0" stop-color="#0ec41d"/><stop offset="0.031" stop-color="#10c413"/><stop offset="0.0442" stop-color="#1fc410"/><stop offset="0.0929" stop-color="#34c50c"/><stop offset="0.1283" stop-color="#33c40c"/><stop offset="0.2168" stop-color="#27c40e"/><stop offset="0.3053" stop-color="#1cc411"/><stop offset="0.3142" stop-color="#19c411"/><stop offset="0.3186" stop-color="#0ec416"/><stop offset="0.323" stop-color="#10c43b"/><stop offset="0.3274" stop-color="#10c770"/><stop offset="0.3319" stop-color="#10c393"/><stop offset="0.3363" stop-color="#10b1b5"/><stop offset="0.3407" stop-color="#1095c9"/><stop offset="0.3451" stop-color="#1078d2"/><stop offset="0.3496" stop-color="#105fd3"/><stop offset="0.354" stop-color="#1050d1"/><stop offset="0.4159" stop-color="#0e38cb"/><stop offset="0.5044" stop-color="#0b29c2"/><stop offset="0.7699" stop-color="#0b25c0"/><stop offset="1" stop-color="#0a23bf"/></linearGradient>
<linearGradient id="p23" gradientUnits="userSpaceOnUse" x1="89.5" x2="315.5" y1="0" y2="0"><stop offset="0" stop-color="#0ec41c"/><stop offset="0.031" stop-color="#12c413"/><stop offset="0.0442" stop-color="#22c40f"/><stop offset="0.0885" stop-color="#3bc50b"/><stop offset="0.1195" stop-color="#3dc60b"/><stop offset="0.1814" stop-color="#2cc40d"/><stop offset="0.3097" stop-color="#1cc411"/><stop offset="0.3142" stop-color="#19c411"/><stop offset="0.3186" stop-color="#0ec41d"/><stop offset="0.323" stop-color="#10c447"/><stop offset="0.3274" stop-color="#10c77c"/><stop offset="0.3319" stop-color="#10bf9c"/><stop offset="0.3363" stop-color="#10acbb"/><stop offset="0.3407" stop-color="#108fcc"/><stop offset="0.3451" stop-color="#1072d4"/><stop offset="0.3496" stop-color="#1055d2"/><stop offset="0.354" stop-color="#1044d0"/><stop offset="0.4248" stop-color="#0b27c1"/><stop offset="0.5088" stop-color="#091ebb"/><stop offset="0.8407" stop-color="#091dbb"/><stop offset="1" stop-color="#091dbb"/></linearGradient>
<linearGradient id="p24" gradientUnits="userSpaceOnUse" x1="89.5" x2="315.5" y1="0" y2="0"><stop offset="0" stop-color="#0ec41a"/><stop offset="0.0265" stop-color="#11c413"/><stop offset="0.031" stop-color="#13c413"/><stop offset="0.0442" stop-color="#25c40f"/><stop offset="0.0841" stop-color="#43c60b"/><stop offset="0.115" stop-color="#46c70b"/><stop offset="0.1726" stop-color="#30c40c"/><stop offset="0.177" stop-color="#29c40e"/><stop offset="0.2788" stop-color="#21c410"/><stop offset="0.3142" stop-color="#19c412"/><stop offset="0.3186" stop-color="#0ec41e"/><stop offset="0.323" stop-color="#10c44c"/><stop offset="0.3274" stop-color="#10c780"/><stop offset="0.3319" stop-color="#10bca3"/><stop offset="0.3363" stop-color="#10a6c1"/><stop offset="0.3407" stop-color="#1084cf"/><stop offset="0.3451" stop-color="#1060d3"/><stop offset="0.3496" stop-color="#1041d0"/><stop offset="0.354" stop-color="#0d32c8"/><stop offset="0.4204" stop-color="#091cbb"/><stop offset="0.5044" stop-color="#0817b4"/><stop offset="0.8496" stop-color="#0818b7"/><stop offset="1" stop-color="#0819b9"/></linearGradient>
<linearGradient id="p25" gradientUnits="userSpaceOnUse" x1="89.5" x2="315.5" y1="0" y2="0"><stop offset="0" stop-color="#0ec418"/><stop offset="0.031" stop-color="#15c412"/><stop offset="0.0398" stop-color="#24c40f"/><stop offset="0.0796" stop-color="#4bc70a"/><stop offset="0.1062" stop-color="#51c80a"/><stop offset="0.1283" stop-color="#4bc70a"/><stop offset="0.1504" stop-color="#3cc50b"/><stop offset="0.1549" stop-color="#2ac40d"/><stop offset="0.2743" stop-color="#21c40f"/><stop offset="0.3142" stop-color="#18c412"/><stop offset="0.3186" stop-color="#0ec420"/><stop offset="0.3274" stop-color="#10c683"/><stop offset="0.3319" stop-color="#10b9a9"/><stop offset="0.3363" stop-color="#109fc4"/><stop offset="0.3407" stop-color="#107bd1"/><stop offset="0.3451" stop-color="#1053d2"/><stop offset="0.3496" stop-color="#0e35ca"/><stop offset="0.354" stop-color="#0b26c0"/><stop offset="0.4425" stop-color="#0817b6"/><stop offset="0.531" stop-color="#0815b0"/><stop offset="0.854" stop-color="#0816b4"/><stop offset="1" stop-color="#0818b8"/></linearGradient>
<linearGradient id="p26" gradientUnits="userSpaceOnUse" x1="89.5" x2="315.5" y1="0" y2="0"><stop offset="0" stop-color="#0ec416"/><stop offset="0.031" stop-color="#17c412"/><stop offset="0.0398" stop-color="#28c40e"/><stop offset="0.0664" stop-color="#4ac70a"/><stop offset="0.0841" stop-color="#5ac909"/><stop offset="0.1106" stop-color="#5eca09"/><stop offset="0.1239" stop-color="#54c90a"/><stop offset="0.1283" stop-color="#2bc40d"/><stop offset="0.2743" stop-color="#21c40f"/><stop offset="0.3142" stop-color="#18c412"/><stop offset="0.3186" stop-color="#0ec420"/><stop offset="0.3274" stop-color="#10c683"/><stop offset="0.3319" stop-color="#10b9aa"/><stop offset="0.3363" stop-color="#109ec5"/><stop offset="0.3407" stop-color="#107ad1"/><stop offset="0.3451" stop-color="#1052d2"/><stop offset="0.3496" stop-color="#0e34c9"/><stop offset="0.354" stop-color="#0b25c0"/><stop offset="0.4425" stop-color="#0817b6"/><stop offset="0.5398" stop-color="#0815af"/><stop offset="0.9204" stop-color="#0817b4"/><stop offset="1" stop-color="#0818b8"/></linearGradient>
<linearGradient id="p27" gradientUnits="userSpaceOnUse" x1="89.5" x2="315.5" y1="0" y2="0"><stop offset="0" stop-color="#0ec414"/><stop offset="0.031" stop-color="#19c411"/><stop offset="0.0398" stop-color="#2dc40d"/><stop offset="0.0619" stop-color="#51c80a"/><stop offset="0.0841" stop-color="#6acb08"/><stop offset="0.1018" stop-color="#6ecc08"/><stop offset="0.1062" stop-color="#69cb08"/><stop offset="0.1106" stop-color="#2cc40d"/><stop offset="0.2699" stop-color="#22c40f"/><stop offset="0.3142" stop-color="#18c412"/><stop offset="0.3186" stop-color="#0ec420"/><stop offset="0.3274" stop-color="#10c683"/><stop offset="0.3319" stop-color="#10b9aa"/><stop offset="0.3363" stop-color="#109ec5"/><stop offset="0.3407" stop-color="#107ad1"/><stop offset="0.3451" stop-color="#1052d2"/><stop offset="0.3496" stop-color="#0e34c9"/><stop offset="0.354" stop-color="#0b25c0"/><stop offset="0.4425" stop-color="#0817b6"/><stop offset="0.5398" stop-color="#0815af"/><stop offset="0.8142" stop-color="#0815b0"/><stop offset="0.9956" stop-color="#0819b9"/><stop offset="1" stop-color="#091bba"/></linearGradient>
<linearGradient id="p28" gradientUnits="userSpaceOnUse" x1="89.5" x2="315.5" y1="0" y2="0"><stop offset="0" stop-color="#0fc414"/><stop offset="0.031" stop-color="#1bc411"/><stop offset="0.0398" stop-color="#33c40c"/><stop offset="0.0575" stop-color="#59c909"/><stop offset="0.0841" stop-color="#7fcd08"/><stop offset="0.0885" stop-color="#80cd08"/><stop offset="0.0929" stop-color="#7bcc08"/><stop offset="0.0973" stop-color="#2cc40d"/><stop offset="0.2699" stop-color="#22c40f"/><stop offset="0.3097" stop-color="#19c412"/><stop offset="0.3142" stop-color="#13c413"/><stop offset="0.3186" stop-color="#0fc424"/><stop offset="0.3319" stop-color="#10c780"/><stop offset="0.3407" stop-color="#10bba5"/><stop offset="0.3451" stop-color="#10b2b3"/><stop offset="0.354" stop-color="#10a8c0"/><stop offset="0.3982" stop-color="#10abbc"/><stop offset="0.4027" stop-color="#10a7c1"/><stop offset="0.4159" stop-color="#1074d3"/><stop offset="0.4248" stop-color="#1046d1"/><stop offset="0.4336" stop-color="#0b27c1"/><stop offset="0.4381" stop-color="#091dbb"/><stop offset="0.4469" stop-color="#0817b5"/><stop offset="0.5487" stop-color="#0815af"/><stop offset="0.792" stop-color="#0814ae"/><stop offset="0.9602" stop-color="#0818b8"/><stop offset="0.9956" stop-color="#0d32c8"/><stop offset="1" stop-color="#0e36ca"/></linearGradient>
<linearGradient id="p29" gradientUnits="userSpaceOnUse" x1="89.5" x2="315.5" y1="0" y2="0"><stop offset="0" stop-color="#10c413"/><stop offset="0.0265" stop-color="#18c412"/><stop offset="0.031" stop-color="#1dc410"/><stop offset="0.0442" stop-color="#48c70b"/><stop offset="0.0619" stop-color="#71cc08"/><stop offset="0.0752" stop-color="#8ccd08"/><stop offset="0.0796" stop-color="#8bcd08"/><stop offset="0.0841" stop-color="#2cc40d"/><stop offset="0.2301" stop-color="#27c40e"/><stop offset="0.2345" stop-color="#21c40f"/><stop offset="0.2389" stop-color="#11c413"/><stop offset="0.2434" stop-color="#0fc434"/><stop offset="0.2478" stop-color="#10c661"/><stop offset="0.2522" stop-color="#10c685"/><stop offset="0.2566" stop-color="#10be9f"/><stop offset="0.2611" stop-color="#10b3b2"/><stop offset="0.2655" stop-color="#10aabe"/><stop offset="0.2788" stop-color="#1097c8"/><stop offset="0.2965" stop-color="#108dcd"/><stop offset="0.4204" stop-color="#10a9bf"/><stop offset="0.4469" stop-color="#10bca2"/><stop offset="0.4558" stop-color="#10bba5"/><stop offset="0.4646" stop-color="#10b3b3"/><stop offset="0.469" stop-color="#10abbc"/><stop offset="0.4735" stop-color="#109cc6"/><stop offset="0.4823" stop-color="#1069d3"/><stop offset="0.4867" stop-color="#1048d1"/><stop offset="0.4912" stop-color="#0d30c6"/><stop offset="0.4956" stop-color="#091dbb"/><stop offset="0.5" stop-color="#0816b3"/><stop offset="0.5177" stop-color="#0815b0"/><stop offset="0.7876" stop-color="#0814ae"/><stop offset="0.9204" stop-color="#0817b6"/><stop offset="0.9425" stop-color="#0b25c0"/><stop offset="0.9735" stop-color="#1046d0"/><stop offset="1" stop-color="#106bd4"/></linearGradient>
<linearGradient id="p30" gradientUnits="userSpaceOnUse" x1="89.5" x2="315.5" y1="0" y2="0"><stop offset="0" stop-color="#12c413"/><stop offset="0.0265" stop-color="#1ac411"/><stop offset="0.031" stop-color="#1fc410"/><stop offset="0.0398" stop-color="#45c70b"/><stop offset="0.0575" stop-color="#7fcd08"/><stop offset="0.0664" stop-color="#95ce08"/><stop offset="0.0708" stop-color="#94ce08"/><stop offset="0.0752" stop-color="#2bc40d"/><stop offset="0.1858" stop-color="#27c40e"/><stop offset="0.1903" stop-color="#1bc411"/><stop offset="0.1947" stop-color="#0fc422"/><stop offset="0.2035" stop-color="#10c77c"/><stop offset="0.208" stop-color="#10c197"/><stop offset="0.2124" stop-color="#10b4b2"/><stop offset="0.2168" stop-color="#10a3c3"/><stop offset="0.2212" stop-color="#1090cc"/><stop offset="0.2257" stop-color="#1082cf"/><stop offset="0.2301" stop-color="#107dd1"/><stop offset="0.4159" stop-color="#10a8c0"/><stop offset="0.4867" stop-color="#10b2b4"/><stop offset="0.5044" stop-color="#10be9e"/><stop offset="0.5088" stop-color="#10bda0"/><stop offset="0.5177" stop-color="#10b3b3"/><stop offset="0.5221" stop-color="#10a7c0"/><stop offset="0.531" stop-color="#107ad1"/><stop offset="0.5354" stop-color="#1054d2"/><stop offset="0.5398" stop-color="#0c2cc4"/><stop offset="0.5442" stop-color="#0817b5"/><stop offset="0.5487" stop-color="#0815af"/><stop offset="0.792" stop-color="#0814ae"/><stop offset="0.885" stop-color="#0817b5"/><stop offset="0.9071" stop-color="#0b27c1"/><stop offset="0.9336" stop-color="#1048d1"/><stop offset="0.9646" stop-color="#1076d3"/><stop offset="1" stop-color="#109cc6"/></linearGradient>
<linearGradient id="p31" gradientUnits="userSpaceOnUse" x1="89.5" x2="315.5" y1="0" y2="0"><stop offset="0" stop-color="#13c413"/><stop offset="0.0265" stop-color="#1bc411"/><stop offset="0.031" stop-color="#22c40f"/><stop offset="0.0398" stop-color="#55c90a"/><stop offset="0.0487" stop-color="#73cc08"/><stop offset="0.0575" stop-color="#9cce08"/><stop offset="0.0619" stop-color="#9ace08"/><stop offset="0.0664" stop-color="#2bc40d"/><stop offset="0.1504" stop-color="#2ac40d"/><stop offset="0.1549" stop-color="#19c411"/><stop offset="0.1593" stop-color="#10c43b"/><stop offset="0.1637" stop-color="#10c77e"/><stop offset="0.1681" stop-color="#10b9a9"/><stop offset="0.1726" stop-color="#109fc4"/><stop offset="0.177" stop-color="#1083cf"/><stop offset="0.1814" stop-color="#1076d3"/><stop offset="0.2965" stop-color="#108dcd"/><stop offset="0.4558" stop-color="#10aeb9"/><stop offset="0.5354" stop-color="#10b6ae"/><stop offset="0.5398" stop-color="#10b9a9"/><stop offset="0.5442" stop-color="#10be9d"/><stop offset="0.5487" stop-color="#10c09a"/><stop offset="0.5531" stop-color="#10bca3"/><stop offset="0.5575" stop-color="#10b1b5"/><stop offset="0.5619" stop-color="#1099c8"/><stop offset="0.5664" stop-color="#1074d3"/><stop offset="0.5708" stop-color="#1044d0"/><stop offset="0.5752" stop-color="#0a23be"/><stop offset="0.5796" stop-color="#0816b1"/><stop offset="0.615" stop-color="#0814ae"/><stop offset="0.8009" stop-color="#0815af"/><stop offset="0.8628" stop-color="#0816b4"/><stop offset="0.8673" stop-color="#0818b8"/><stop offset="0.8894" stop-color="#1043d0"/><stop offset="0.9204" stop-color="#1075d3"/><stop offset="0.9602" stop-color="#10a3c3"/><stop offset="1" stop-color="#10baa7"/></linearGradient>
<linearGradient id="p32" gradientUnits="userSpaceOnUse" x1="89.5" x2="315.5" y1="0" y2="0"><stop offset="0" stop-color="#14c413"/><stop offset="0.0265" stop-color="#1dc410"/><stop offset="0.031" stop-color="#26c40e"/><stop offset="0.0354" stop-color="#50c80a"/><stop offset="0.0398" stop-color="#74cc08"/><stop offset="0.0442" stop-color="#7ecd08"/><stop offset="0.0531" stop-color="#9dce08"/><stop offset="0.0575" stop-color="#2ac40d"/><stop offset="0.115" stop-color="#2cc40d"/><stop offset="0.1195" stop-color="#29c40e"/><stop offset="0.1239" stop-color="#0fc414"/><stop offset="0.1283" stop-color="#10c554"/><stop offset="0.1327" stop-color="#10c48d"/><stop offset="0.1372" stop-color="#10afb7"/><stop offset="0.1416" stop-color="#1090cc"/><stop offset="0.146" stop-color="#1076d2"/><stop offset="0.1504" stop-color="#106dd4"/><stop offset="0.3584" stop-color="#109bc7"/><stop offset="0.469" stop-color="#10afb7"/><stop offset="0.5708" stop-color="#10baa8"/><stop offset="0.5796" stop-color="#10c197"/><stop offset="0.5841" stop-color="#10c099"/><stop offset="0.5885" stop-color="#10baa8"/><stop offset="0.5929" stop-color="#10abbc"/><stop offset="0.5973" stop-color="#108dcd"/><stop offset="0.6018" stop-color="#1063d3"/><stop offset="0.6062" stop-color="#0e34c9"/><stop offset="0.6106" stop-color="#0818b7"/><stop offset="0.615" stop-color="#0814ae"/><stop offset="0.7965" stop-color="#0814af"/><stop offset="0.8407" stop-color="#0816b2"/><stop offset="0.8496" stop-color="#091dbb"/><stop offset="0.8628" stop-color="#0f3cce"/><stop offset="0.8805" stop-color="#1074d3"/><stop offset="0.8894" stop-color="#1088ce"/><stop offset="0.9204" stop-color="#10aabe"/><stop offset="0.9646" stop-color="#10bf9b"/><stop offset="1" stop-color="#10c687"/></linearGradient>
<linearGradient id="p33" gradientUnits="userSpaceOnUse" x1="89.5" x2="315.5" y1="0" y2="0"><stop offset="0" stop-color="#16c412"/><stop offset="0.0265" stop-color="#1fc410"/><stop offset="0.031" stop-color="#2fc40c"/><stop offset="0.0354" stop-color="#8ecd08"/><stop offset="0.0398" stop-color="#a9cf08"/><stop offset="0.0442" stop-color="#99ce08"/><stop offset="0.0487" stop-color="#9dce08"/><stop offset="0.0531" stop-color="#2ac40d"/><stop offset="0.0929" stop-color="#2cc40d"/><stop offset="0.0973" stop-color="#20c410"/><stop offset="0.1018" stop-color="#10c446"/><stop offset="0.1062" stop-color="#10c295"/><stop offset="0.1106" stop-color="#109fc5"/><stop offset="0.115" stop-color="#1074d3"/><stop offset="0.1195" stop-color="#1066d3"/><stop offset="0.3142" stop-color="#1091cc"/><stop offset="0.4602" stop-color="#10afb8"/><stop offset="0.6018" stop-color="#10bca3"/><stop offset="0.6062" stop-color="#10bda0"/><stop offset="0.6106" stop-color="#10c196"/><stop offset="0.615" stop-color="#10c294"/><stop offset="0.6195" stop-color="#10be9e"/><stop offset="0.6239" stop-color="#10b2b3"/><stop offset="0.6283" stop-color="#1099c8"/><stop offset="0.6327" stop-color="#1072d4"/><stop offset="0.6372" stop-color="#103fd0"/><stop offset="0.6416" stop-color="#091ebc"/><stop offset="0.646" stop-color="#0815af"/><stop offset="0.7876" stop-color="#0814ae"/><stop offset="0.8186" stop-color="#0815b1"/><stop offset="0.8274" stop-color="#091cbb"/><stop offset="0.8407" stop-color="#1040d0"/><stop offset="0.854" stop-color="#1070d4"/><stop offset="0.8717" stop-color="#109dc6"/><stop offset="0.885" stop-color="#10b2b4"/><stop offset="0.9204" stop-color="#10c295"/><stop offset="0.9646" stop-color="#10c681"/><stop offset="1" stop-color="#10c77c"/></linearGradient>
<linearGradient id="p34" gradientUnits="userSpaceOnUse" x1="89.5" x2="315.5" y1="0" y2="0"><stop offset="0" stop-color="#17c412"/><stop offset="0.0221" stop-color="#1ec410"/><stop offset="0.0265" stop-color="#23c40f"/><stop offset="0.031" stop-color="#64cb09"/><stop offset="0.0354" stop-color="#ecb301"/><stop offset="0.0398" stop-color="#c8d008"/><stop offset="0.0442" stop-color="#2bc40d"/><stop offset="0.0708" stop-color="#2bc40d"/><stop offset="0.0752" stop-color="#25c40f"/><stop offset="0.0796" stop-color="#10c661"/><stop offset="0.0841" stop-color="#10b3b2"/><stop offset="0.0885" stop-color="#1088ce"/><stop offset="0.0929" stop-color="#1068d3"/><stop offset="0.1062" stop-color="#1063d3"/><stop offset="0.2655" stop-color="#1085cf"/><stop offset="0.4469" stop-color="#10adba"/><stop offset="0.6327" stop-color="#10be9e"/><stop offset="0.6372" stop-color="#10bf9c"/><stop offset="0.646" stop-color="#10c490"/><stop offset="0.6504" stop-color="#10c198"/><stop offset="0.6549" stop-color="#10b7ad"/><stop offset="0.6593" stop-color="#10a2c3"/><stop offset="0.6637" stop-color="#107dd1"/><stop offset="0.6681" stop-color="#1047d1"/><stop offset="0.6726" stop-color="#091cbb"/><stop offset="0.677" stop-color="#0814ad"/><stop offset="0.8053" stop-color="#0815af"/><stop offset="0.8097" stop-color="#0817b5"/><stop offset="0.8186" stop-color="#1045d0"/><stop offset="0.8319" stop-color="#1079d2"/><stop offset="0.8496" stop-color="#10a8c0"/><stop offset="0.8673" stop-color="#10bca2"/><stop offset="0.885" stop-color="#10c58b"/><stop offset="0.9248" stop-color="#10c77f"/><stop offset="1" stop-color="#10c77e"/></linearGradient>
<linearGradient id="p35" gradientUnits="userSpaceOnUse" x1="89.5" x2="315.5" y1="0" y2="0"><stop offset="0" stop-color="#18c412"/><stop offset="0.0221" stop-color="#1fc410"/><stop offset="0.0265" stop-color="#35c50c"/><stop offset="0.031" stop-color="#dfbd03"/><stop offset="0.0354" stop-color="#f07800"/><stop offset="0.0398" stop-color="#b9cf08"/><stop offset="0.0442" stop-color="#2ac40d"/><stop offset="0.0531" stop-color="#2ac40d"/><stop offset="0.0575" stop-color="#1ac411"/><stop offset="0.0619" stop-color="#10c665"/><stop offset="0.0664" stop-color="#10b4b0"/><stop offset="0.0708" stop-color="#107ed0"/><stop offset="0.0752" stop-color="#106ad3"/><stop offset="0.1062" stop-color="#1063d3"/><stop offset="0.2655" stop-color="#1085cf"/><stop offset="0.3584" stop-color="#109bc7"/><stop offset="0.3628" stop-color="#107ed0"/><stop offset="0.4071" stop-color="#1094ca"/><stop offset="0.531" stop-color="#10a6c1"/><stop offset="0.5442" stop-color="#10a3c2"/><stop offset="0.5487" stop-color="#10b8ad"/><stop offset="0.6681" stop-color="#10c197"/><stop offset="0.6726" stop-color="#10c490"/><stop offset="0.677" stop-color="#10c48e"/><stop offset="0.6814" stop-color="#10bda0"/><stop offset="0.6858" stop-color="#10a9be"/><stop offset="0.6903" stop-color="#107dd1"/><stop offset="0.6947" stop-color="#1042d0"/><stop offset="0.6991" stop-color="#0819b9"/><stop offset="0.7035" stop-color="#0814ad"/><stop offset="0.7965" stop-color="#0814af"/><stop offset="0.8009" stop-color="#0819b8"/><stop offset="0.8053" stop-color="#0f3acc"/><stop offset="0.8097" stop-color="#1066d3"/><stop offset="0.8142" stop-color="#108ace"/><stop offset="0.8186" stop-color="#109ec5"/><stop offset="0.8274" stop-color="#10b0b6"/><stop offset="0.8451" stop-color="#10c197"/><stop offset="0.8628" stop-color="#10c685"/><stop offset="0.8894" stop-color="#10c77f"/><stop offset="1" stop-color="#10c77e"/></linearGradient>
<linearGradient id="p36" gradientUnits="userSpaceOnUse" x1="89.5" x2="315.5" y1="0" y2="0"><stop offset="0" stop-color="#1ac411"/><stop offset="0.0221" stop-color="#23c40f"/><stop offset="0.0265" stop-color="#6fcc08"/><stop offset="0.031" stop-color="#f07300"/><stop offset="0.0354" stop-color="#e9b601"/><stop offset="0.0398" stop-color="#2dc40d"/><stop offset="0.0442" stop-color="#20c410"/><stop offset="0.0487" stop-color="#10c77b"/><stop offset="0.0531" stop-color="#1087ce"/><stop offset="0.0575" stop-color="#106ed4"/><stop offset="0.1062" stop-color="#1062d3"/><stop offset="0.2611" stop-color="#1084cf"/><stop offset="0.2655" stop-color="#1064d3"/><stop offset="0.3009" stop-color="#107bd1"/><stop offset="0.3938" stop-color="#109ec5"/><stop offset="0.4823" stop-color="#10adba"/><stop offset="0.5664" stop-color="#10b1b4"/><stop offset="0.6195" stop-color="#10acbb"/><stop offset="0.6239" stop-color="#10bd9f"/><stop offset="0.6947" stop-color="#10c392"/><stop offset="0.6991" stop-color="#10c58c"/><stop offset="0.7035" stop-color="#10c58d"/><stop offset="0.708" stop-color="#10bca2"/><stop offset="0.7124" stop-color="#10a3c3"/><stop offset="0.7168" stop-color="#1069d3"/><stop offset="0.7212" stop-color="#0b29c2"/><stop offset="0.7257" stop-color="#0814ae"/><stop offset="0.7876" stop-color="#0814ae"/><stop offset="0.792" stop-color="#0a21bd"/><stop offset="0.7965" stop-color="#104ed1"/><stop offset="0.8009" stop-color="#107ed1"/><stop offset="0.8053" stop-color="#109fc4"/><stop offset="0.8097" stop-color="#10b3b2"/><stop offset="0.8142" stop-color="#10be9e"/><stop offset="0.8186" stop-color="#10c392"/><stop offset="0.8363" stop-color="#10c684"/><stop offset="1" stop-color="#10c77e"/></linearGradient>
<linearGradient id="p37" gradientUnits="userSpaceOnUse" x1="89.5" x2="315.5" y1="0" y2="0"><stop offset="0" stop-color="#1bc411"/><stop offset="0.0177" stop-color="#20c410"/><stop offset="0.0221" stop-color="#2bc40d"/><stop offset="0.0265" stop-color="#a8cf08"/><stop offset="0.031" stop-color="#ddbf04"/><stop offset="0.0354" stop-color="#1cc411"/><stop offset="0.0398" stop-color="#10b0b6"/><stop offset="0.0442" stop-color="#107fd0"/><stop offset="0.0531" stop-color="#106fd4"/><stop offset="0.0752" stop-color="#1066d3"/><stop offset="0.1062" stop-color="#1061d3"/><stop offset="0.2124" stop-color="#107ad2"/><stop offset="0.2168" stop-color="#1055d2"/><stop offset="0.2478" stop-color="#1073d3"/><stop offset="0.292" stop-color="#1087ce"/><stop offset="0.4248" stop-color="#10aabe"/><stop offset="0.5885" stop-color="#10b8ab"/><stop offset="0.677" stop-color="#10b6ae"/><stop offset="0.6947" stop-color="#10b4b1"/><stop offset="0.6991" stop-color="#10c392"/><stop offset="0.7212" stop-color="#10c58c"/><stop offset="0.7257" stop-color="#10c589"/><stop offset="0.7301" stop-color="#10be9e"/><stop offset="0.7345" stop-color="#10a2c3"/><stop offset="0.7389" stop-color="#1068d3"/><stop offset="0.7434" stop-color="#0814ad"/><stop offset="0.7788" stop-color="#081ab9"/><stop offset="0.7832" stop-color="#0d32c7"/><stop offset="0.7876" stop-color="#106ed4"/><stop offset="0.792" stop-color="#109ac7"/><stop offset="0.7965" stop-color="#10b3b3"/><stop offset="0.8009" stop-color="#10be9d"/><stop offset="0.8053" stop-color="#10c48e"/><stop offset="0.8142" stop-color="#10c686"/><stop offset="1" stop-color="#10c77e"/></linearGradient>
<linearGradient id="p38" gradientUnits="userSpaceOnUse" x1="89.5" x2="315.5" y1="0" y2="0"><stop offset="0" stop-color="#1cc411"/><stop offset="0.0177" stop-color="#21c40f"/><stop offset="0.0221" stop-color="#35c50c"/><stop offset="0.0265" stop-color="#81cd08"/><stop offset="0.031" stop-color="#75cc08"/><stop offset="0.0354" stop-color="#108ecc"/><stop offset="0.0487" stop-color="#1070d4"/><stop offset="0.0531" stop-color="#1064d3"/><stop offset="0.0619" stop-color="#1060d3"/><stop offset="0.1062" stop-color="#105ed3"/><stop offset="0.1681" stop-color="#1071d4"/><stop offset="0.1726" stop-color="#104dd1"/><stop offset="0.208" stop-color="#106dd4"/><stop offset="0.2876" stop-color="#108dcd"/><stop offset="0.4248" stop-color="#10acbb"/><stop offset="0.6195" stop-color="#10bca2"/><stop offset="0.7389" stop-color="#10bf9d"/><stop offset="0.7566" stop-color="#10b9aa"/><stop offset="0.7788" stop-color="#10b2b4"/><stop offset="0.7832" stop-color="#10bba6"/><stop offset="0.7876" stop-color="#10c48d"/><stop offset="0.792" stop-color="#10c685"/><stop offset="0.9381" stop-color="#10c781"/><stop offset="1" stop-color="#10c77e"/></linearGradient>
<linearGradient id="p39" gradientUnits="userSpaceOnUse" x1="89.5" x2="315.5" y1="0" y2="0"><stop offset="0" stop-color="#1cc411"/><stop offset="0.0177" stop-color="#17c412"/><stop offset="0.0221" stop-color="#1cc411"/><stop offset="0.0265" stop-color="#16c412"/><stop offset="0.031" stop-color="#0fc431"/><stop offset="0.0354" stop-color="#1082cf"/><stop offset="0.0398" stop-color="#1070d4"/><stop offset="0.0487" stop-color="#1044d0"/><stop offset="0.0531" stop-color="#0e37ca"/><stop offset="0.0575" stop-color="#0e36ca"/><stop offset="0.0708" stop-color="#104dd1"/><stop offset="0.0841" stop-color="#1057d2"/><stop offset="0.1106" stop-color="#105dd2"/><stop offset="0.1195" stop-color="#1062d3"/><stop offset="0.1239" stop-color="#0f3dce"/><stop offset="0.1549" stop-color="#105ed2"/><stop offset="0.1947" stop-color="#1074d3"/><stop offset="0.3363" stop-color="#109cc6"/><stop offset="0.4513" stop-color="#10b0b6"/><stop offset="0.7345" stop-color="#10c48f"/><stop offset="0.7389" stop-color="#10c48d"/><stop offset="0.7434" stop-color="#10c685"/><stop offset="0.7611" stop-color="#10c771"/><stop offset="0.7699" stop-color="#10c76a"/><stop offset="0.7788" stop-color="#10c872"/><stop offset="0.792" stop-color="#10c780"/><stop offset="0.8142" stop-color="#10c686"/><stop offset="1" stop-color="#10c77e"/></linearGradient>
<linearGradient id="p40" gradientUnits="userSpaceOnUse" x1="89.5" x2="315.5" y1="0" y2="0"><stop offset="0" stop-color="#0ec414"/><stop offset="0.0088" stop-color="#0fc426"/><stop offset="0.0133" stop-color="#0fc438"/><stop offset="0.0177" stop-color="#10c551"/><stop offset="0.0221" stop-color="#10c87a"/><stop offset="0.0265" stop-color="#10bca2"/><stop offset="0.031" stop-color="#108bcd"/><stop offset="0.0354" stop-color="#106dd4"/><stop offset="0.0398" stop-color="#1042d0"/><stop offset="0.0442" stop-color="#091bba"/><stop offset="0.0487" stop-color="#0810a2"/><stop offset="0.0531" stop-color="#080c98"/><stop offset="0.0619" stop-color="#080c98"/><stop offset="0.0708" stop-color="#0817b5"/><stop offset="0.0796" stop-color="#0d30c6"/><stop offset="0.1018" stop-color="#1042d0"/><stop offset="0.1372" stop-color="#1064d3"/><stop offset="0.1814" stop-color="#1077d2"/><stop offset="0.3894" stop-color="#10a9bf"/><stop offset="0.5752" stop-color="#10bba4"/><stop offset="0.7389" stop-color="#10c58a"/><stop offset="0.7655" stop-color="#10c879"/><stop offset="0.7832" stop-color="#10c77d"/><stop offset="0.8097" stop-color="#10c686"/><stop offset="1" stop-color="#10c77e"/></linearGradient>
<linearGradient id="p41" gradientUnits="userSpaceOnUse" x1="89.5" x2="315.5" y1="0" y2="0"><stop offset="0" stop-color="#10c43a"/><stop offset="0.0044" stop-color="#10c44b"/><stop offset="0.0133" stop-color="#10c77d"/><stop offset="0.0177" stop-color="#10c393"/><stop offset="0.0221" stop-color="#10b2b4"/><stop offset="0.0265" stop-color="#1099c7"/><stop offset="0.031" stop-color="#1083cf"/><stop offset="0.0354" stop-color="#1064d3"/><stop offset="0.0398" stop-color="#0e35ca"/><stop offset="0.0442" stop-color="#0814ad"/><stop offset="0.0487" stop-color="#080c98"/><stop offset="0.0619" stop-color="#080c98"/><stop offset="0.0708" stop-color="#091bba"/><stop offset="0.0752" stop-color="#0d2fc6"/><stop offset="0.0796" stop-color="#0f3acd"/><stop offset="0.0973" stop-color="#104bd1"/><stop offset="0.1372" stop-color="#106dd4"/><stop offset="0.2699" stop-color="#1091cc"/><stop offset="0.4204" stop-color="#10aeb9"/><stop offset="0.677" stop-color="#10c294"/><stop offset="0.7788" stop-color="#10c684"/><stop offset="0.8717" stop-color="#10c684"/><stop offset="1" stop-color="#10c77e"/></linearGradient>
<linearGradient id="p42" gradientUnits="userSpaceOnUse" x1="89.5" x2="315.5" y1="0" y2="0"><stop offset="0" stop-color="#10c768"/><stop offset="0.0044" stop-color="#10c77d"/><stop offset="0.0088" stop-color="#10c58c"/><stop offset="0.0177" stop-color="#10b2b3"/><stop offset="0.0265" stop-color="#109cc6"/><stop offset="0.0354" stop-color="#1079d2"/><stop offset="0.0398" stop-color="#105cd2"/><stop offset="0.0442" stop-color="#0f3bcd"/><stop offset="0.0487" stop-color="#0a22be"/><stop offset="0.0531" stop-color="#0816b3"/><stop offset="0.0575" stop-color="#0816b3"/><stop offset="0.0619" stop-color="#0819b8"/><stop offset="0.0708" stop-color="#0d33c8"/><stop offset="0.0796" stop-color="#1043d0"/><stop offset="0.1327" stop-color="#1070d4"/><stop offset="0.2743" stop-color="#1093ca"/><stop offset="0.4159" stop-color="#10aeb8"/><stop offset="0.6593" stop-color="#10c196"/><stop offset="0.7832" stop-color="#10c587"/><stop offset="1" stop-color="#10c77e"/></linearGradient>
<linearGradient id="p43" gradientUnits="userSpaceOnUse" x1="89.5" x2="315.5" y1="0" y2="0"><stop offset="0" stop-color="#10c686"/><stop offset="0.0088" stop-color="#10bba6"/><stop offset="0.0133" stop-color="#10b4b1"/><stop offset="0.0221" stop-color="#10abbd"/><stop offset="0.0354" stop-color="#1089ce"/><stop offset="0.0442" stop-color="#106cd4"/><stop offset="0.0531" stop-color="#104ed1"/><stop offset="0.0619" stop-color="#1047d1"/><stop offset="0.1018" stop-color="#105ad2"/><stop offset="0.1327" stop-color="#1073d3"/><stop offset="0.3407" stop-color="#10a3c2"/><stop offset="0.5133" stop-color="#10b9aa"/><stop offset="0.7699" stop-color="#10c588"/><stop offset="1" stop-color="#10c77e"/></linearGradient>
<linearGradient id="p44" gradientUnits="userSpaceOnUse" x1="89.5" x2="315.5" y1="0" y2="0"><stop offset="0" stop-color="#10c09a"/><stop offset="0.0044" stop-color="#10baa7"/><stop offset="0.0133" stop-color="#10b4b1"/><stop offset="0.0221" stop-color="#10acba"/><stop offset="0.0354" stop-color="#1090cc"/><stop offset="0.0531" stop-color="#1066d3"/><stop offset="0.0664" stop-color="#105bd2"/><stop offset="0.0885" stop-color="#105cd2"/><stop offset="0.115" stop-color="#106cd4"/><stop offset="0.1549" stop-color="#107dd1"/><stop offset="0.354" stop-color="#10a7c0"/><stop offset="0.531" stop-color="#10baa7"/><stop offset="0.7743" stop-color="#10c588"/><stop offset="1" stop-color="#10c77e"/></linearGradient>
<linearGradient id="p45" gradientUnits="userSpaceOnUse" x1="89.5" x2="315.5" y1="0" y2="0"><stop offset="0" stop-color="#10bba5"/><stop offset="0.0177" stop-color="#10b4b2"/><stop offset="0.0265" stop-color="#10a7c0"/><stop offset="0.0487" stop-color="#107ad1"/><stop offset="0.0575" stop-color="#106dd4"/><stop offset="0.0796" stop-color="#1066d3"/><stop offset="0.1106" stop-color="#1070d4"/><stop offset="0.1681" stop-color="#1082cf"/><stop offset="0.3628" stop-color="#10aabe"/><stop offset="0.5398" stop-color="#10bba5"/><stop offset="0.7743" stop-color="#10c588"/><stop offset="1" stop-color="#10c77e"/></linearGradient>
<linearGradient id="p46" gradientUnits="userSpaceOnUse" x1="89.5" x2="315.5" y1="0" y2="0"><stop offset="0" stop-color="#10bba5"/><stop offset="0.0177" stop-color="#10b5b0"/><stop offset="0.0354" stop-color="#109ac7"/><stop offset="0.0531" stop-color="#107ad2"/><stop offset="0.0796" stop-color="#1072d4"/><stop offset="0.1106" stop-color="#1075d3"/><stop offset="0.2257" stop-color="#1090cc"/><stop offset="0.3938" stop-color="#10aeb8"/><stop offset="0.5885" stop-color="#10be9d"/><stop offset="0.7788" stop-color="#10c587"/><stop offset="1" stop-color="#10c77e"/></linearGradient>
<linearGradient id="p47" gradientUnits="userSpaceOnUse" x1="89.5" x2="315.5" y1="0" y2="0"><stop offset="0" stop-color="#10bba4"/><stop offset="0.0177" stop-color="#10b6af"/><stop offset="0.0354" stop-color="#109dc5"/><stop offset="0.0531" stop-color="#1080d0"/><stop offset="0.0885" stop-color="#1078d2"/><stop offset="0.1195" stop-color="#107cd1"/><stop offset="0.3407" stop-color="#10a8bf"/><stop offset="0.5265" stop-color="#10bba5"/><stop offset="0.7743" stop-color="#10c587"/><stop offset="1" stop-color="#10c77e"/></linearGradient>
<linearGradient id="p48" gradientUnits="userSpaceOnUse" x1="89.5" x2="315.5" y1="0" y2="0"><stop offset="0" stop-color="#10bca3"/><stop offset="0.0177" stop-color="#10b7ad"/><stop offset="0.0354" stop-color="#10a0c4"/><stop offset="0.0531" stop-color="#1085cf"/><stop offset="0.1018" stop-color="#107cd1"/><stop offset="0.3319" stop-color="#10a8c0"/><stop offset="0.5221" stop-color="#10bba5"/><stop offset="0.7788" stop-color="#10c687"/><stop offset="1" stop-color="#10c77e"/></linearGradient>
<linearGradient id="p49" gradientUnits="userSpaceOnUse" x1="89.5" x2="315.5" y1="0" y2="0"><stop offset="0" stop-color="#10bca2"/><stop offset="0.0177" stop-color="#10b8ad"/><stop offset="0.0354" stop-color="#10a2c3"/><stop offset="0.0531" stop-color="#1088ce"/><stop offset="0.1062" stop-color="#107fd0"/><stop offset="0.3319" stop-color="#10a9bf"/><stop offset="0.5221" stop-color="#10bca4"/><stop offset="0.7788" stop-color="#10c687"/><stop offset="1" stop-color="#10c77e"/></linearGradient>
<linearGradient id="p50" gradientUnits="userSpaceOnUse" x1="89.5" x2="315.5" y1="0" y2="0"><stop offset="0" stop-color="#10bda1"/><stop offset="0.0177" stop-color="#10b8ac"/><stop offset="0.0354" stop-color="#10a4c2"/><stop offset="0.0531" stop-color="#108bcd"/><stop offset="0.1106" stop-color="#1082cf"/><stop offset="0.3407" stop-color="#10abbc"/><stop offset="0.5221" stop-color="#10bca3"/><stop offset="0.7788" stop-color="#10c686"/><stop offset="1" stop-color="#10c77e"/></linearGradient>
<linearGradient id="p51" gradientUnits="userSpaceOnUse" x1="89.5" x2="315.5" y1="0" y2="0"><stop offset="0" stop-color="#10bda1"/><stop offset="0.0177" stop-color="#10b9ab"/><stop offset="0.0354" stop-color="#10a5c1"/><stop offset="0.0531" stop-color="#108dcd"/><stop offset="0.1106" stop-color="#1084cf"/><stop offset="0.3363" stop-color="#10abbc"/><stop offset="0.5265" stop-color="#10bda1"/><stop offset="0.7788" stop-color="#10c686"/><stop offset="1" stop-color="#10c77e"/></linearGradient>
<linearGradient id="p52" gradientUnits="userSpaceOnUse" x1="89.5" x2="315.5" y1="0" y2="0"><stop offset="0" stop-color="#10bda0"/><stop offset="0.0177" stop-color="#10b9aa"/><stop offset="0.0354" stop-color="#10a7c1"/><stop offset="0.0531" stop-color="#108fcc"/><stop offset="0.1106" stop-color="#1087ce"/><stop offset="0.3363" stop-color="#10acbb"/><stop offset="0.5265" stop-color="#10bda1"/><stop offset="0.7832" stop-color="#10c686"/><stop offset="1" stop-color="#10c77e"/></linearGradient>
<linearGradient id="p53" gradientUnits="userSpaceOnUse" x1="89.5" x2="315.5" y1="0" y2="0"><stop offset="0" stop-color="#10bba5"/><stop offset="0.0221" stop-color="#10b2b3"/><stop offset="0.0354" stop-color="#10a3c3"/><stop offset="0.0531" stop-color="#108bcd"/><stop offset="0.1106" stop-color="#1083cf"/><stop offset="0.3496" stop-color="#10abbc"/><stop offset="0.5442" stop-color="#10bba4"/><stop offset="0.7788" stop-color="#10c58b"/><stop offset="1" stop-color="#10c683"/></linearGradient>
<linearGradient id="p54" gradientUnits="userSpaceOnUse" x1="89.5" x2="315.5" y1="0" y2="0"><stop offset="0" stop-color="#10baa7"/><stop offset="0.0221" stop-color="#10b2b4"/><stop offset="0.0354" stop-color="#10a2c3"/><stop offset="0.0531" stop-color="#108bcd"/><stop offset="0.1106" stop-color="#1083cf"/><stop offset="0.354" stop-color="#10abbc"/><stop offset="0.5575" stop-color="#10bba4"/><stop offset="0.7788" stop-color="#10c58d"/><stop offset="1" stop-color="#10c685"/></linearGradient>
<linearGradient id="p55" gradientUnits="userSpaceOnUse" x1="89.5" x2="315.5" y1="0" y2="0"><stop offset="0" stop-color="#10bba6"/><stop offset="0.0221" stop-color="#10b2b3"/><stop offset="0.0354" stop-color="#10a3c2"/><stop offset="0.0531" stop-color="#108dcd"/><stop offset="0.1106" stop-color="#1085cf"/><stop offset="0.354" stop-color="#10acbb"/><stop offset="0.5575" stop-color="#10bca3"/><stop offset="0.7832" stop-color="#10c58d"/><stop offset="1" stop-color="#10c685"/></linearGradient>
<linearGradient id="p56" gradientUnits="userSpaceOnUse" x1="89.5" x2="315.5" y1="0" y2="0"><stop offset="0" stop-color="#10bba5"/><stop offset="0.0221" stop-color="#10b3b2"/><stop offset="0.0354" stop-color="#10a5c2"/><stop offset="0.0531" stop-color="#108fcc"/><stop offset="0.1106" stop-color="#1087ce"/><stop offset="0.354" stop-color="#10acbb"/><stop offset="0.5531" stop-color="#10bca3"/><stop offset="0.7832" stop-color="#10c58c"/><stop offset="1" stop-color="#10c685"/></linearGradient>
<linearGradient id="p57" gradientUnits="userSpaceOnUse" x1="89.5" x2="315.5" y1="0" y2="0"><stop offset="0" stop-color="#10bba5"/><stop offset="0.0221" stop-color="#10b3b2"/><stop offset="0.0354" stop-color="#10a6c1"/><stop offset="0.0531" stop-color="#1091cc"/><stop offset="0.1106" stop-color="#1089ce"/><stop offset="0.354" stop-color="#10adba"/><stop offset="0.5531" stop-color="#10bca3"/><stop offset="0.7832" stop-color="#10c58c"/><stop offset="1" stop-color="#10c685"/></linearGradient>
<linearGradient id="p58" gradientUnits="userSpaceOnUse" x1="89.5" x2="315.5" y1="0" y2="0"><stop offset="0" stop-color="#10bba4"/><stop offset="0.0221" stop-color="#10b4b1"/><stop offset="0.0398" stop-color="#10a2c3"/><stop offset="0.0575" stop-color="#1090cc"/><stop offset="0.115" stop-color="#108ccd"/><stop offset="0.354" stop-color="#10aeb9"/><stop offset="0.5531" stop-color="#10bca2"/><stop offset="0.7832" stop-color="#10c58c"/><stop offset="1" stop-color="#10c685"/></linearGradient></defs>
<clipPath id="fc1"><rect x="90.00" y="116.50" width="225.00" height="57.50"/></clipPath>
<g clip-path="url(#fc1)">
<rect x="89" y="116" width="227" height="1" fill="url(#p0)"/>
<rect x="89" y="117" width="227" height="1" fill="url(#p1)"/>
<rect x="89" y="118" width="227" height="1" fill="url(#p2)"/>
<rect x="89" y="119" width="227" height="1" fill="url(#p3)"/>
<rect x="89" y="120" width="227" height="1" fill="url(#p4)"/>
<rect x="89" y="121" width="227" height="1" fill="url(#p5)"/>
<rect x="89" y="122" width="227" height="1" fill="url(#p6)"/>
<rect x="89" y="123" width="227" height="1" fill="url(#p7)"/>
<rect x="89" y="124" width="227" height="1" fill="url(#p8)"/>
<rect x="89" y="125" width="227" height="1" fill="url(#p9)"/>
<rect x="89" y="126" width="227" height="1" fill="url(#p10)"/>
<rect x="89" y="127" width="227" height="1" fill="url(#p11)"/>
<rect x="89" y="128" width="227" height="1" fill="url(#p12)"/>
<rect x="89" y="129" width="227" height="1" fill="url(#p13)"/>
<rect x="89" y="130" width="227" height="1" fill="url(#p14)"/>
<rect x="89" y="131" width="227" height="1" fill="url(#p15)"/>
<rect x="89" y="132" width="227" height="1" fill="url(#p16)"/>
<rect x="89" y="133" width="227" height="1" fill="url(#p17)"/>
<rect x="89" y="134" width="227" height="1" fill="url(#p18)"/>
<rect x="89" y="135" width="227" height="1" fill="url(#p19)"/>
<rect x="89" y="136" width="227" height="1" fill="url(#p20)"/>
<rect x="89" y="137" width="227" height="1" fill="url(#p21)"/>
<rect x="89" y="138" width="227" height="1" fill="url(#p22)"/>
<rect x="89" y="139" width="227" height="1" fill="url(#p23)"/>
<rect x="89" y="140" width="227" height="1" fill="url(#p24)"/>
<rect x="89" y="141" width="227" height="1" fill="url(#p25)"/>
<rect x="89" y="142" width="227" height="1" fill="url(#p26)"/>
<rect x="89" y="143" width="227" height="1" fill="url(#p27)"/>
<rect x="89" y="144" width="227" height="1" fill="url(#p28)"/>
<rect x="89" y="145" width="227" height="1" fill="url(#p29)"/>
<rect x="89" y="146" width="227" height="1" fill="url(#p30)"/>
<rect x="89" y="147" width="227" height="1" fill="url(#p31)"/>
<rect x="89" y="148" width="227" height="1" fill="url(#p32)"/>
<rect x="89" y="149" width="227" height="1" fill="url(#p33)"/>
<rect x="89" y="150" width="227" height="1" fill="url(#p34)"/>
<rect x="89" y="151" width="227" height="1" fill="url(#p35)"/>
<rect x="89" y="152" width="227" height="1" fill="url(#p36)"/>
<rect x="89" y="153" width="227" height="1" fill="url(#p37)"/>
<rect x="89" y="154" width="227" height="1" fill="url(#p38)"/>
<rect x="89" y="155" width="227" height="1" fill="url(#p39)"/>
<rect x="89" y="156" width="227" height="1" fill="url(#p40)"/>
<rect x="89" y="157" width="227" height="1" fill="url(#p41)"/>
<rect x="89" y="158" width="227" height="1" fill="url(#p42)"/>
<rect x="89" y="159" width="227" height="1" fill="url(#p43)"/>
<rect x="89" y="160" width="227" height="1" fill="url(#p44)"/>
<rect x="89" y="161" width="227" height="1" fill="url(#p45)"/>
<rect x="89" y="162" width="227" height="1" fill="url(#p46)"/>
<rect x="89" y="163" width="227" height="1" fill="url(#p47)"/>
<rect x="89" y="164" width="227" height="1" fill="url(#p48)"/>
<rect x="89" y="165" width="227" height="1" fill="url(#p49)"/>
<rect x="89" y="166" width="227" height="1" fill="url(#p50)"/>
<rect x="89" y="167" width="227" height="1" fill="url(#p51)"/>
<rect x="89" y="168" width="227" height="1" fill="url(#p52)"/>
<rect x="89" y="169" width="227" height="1" fill="url(#p53)"/>
<rect x="89" y="170" width="227" height="1" fill="url(#p54)"/>
<rect x="89" y="171" width="227" height="1" fill="url(#p55)"/>
<rect x="89" y="172" width="227" height="1" fill="url(#p56)"/>
<rect x="89" y="173" width="227" height="1" fill="url(#p57)"/>
<rect x="89" y="174" width="227" height="1" fill="url(#p58)"/>
<path d="M97.00,154.30 C97.10,153.95 97.22,152.92 97.60,152.20 C97.98,151.48 98.52,150.77 99.30,150.00 C100.08,149.23 100.85,148.45 102.30,147.60 C103.75,146.75 105.62,145.78 108.00,144.90 C110.38,144.02 112.93,143.13 116.60,142.30 C120.27,141.47 124.77,140.58 130.00,139.90 C135.23,139.22 142.67,138.55 148.00,138.20 C153.33,137.85 156.67,137.77 162.00,137.80 C167.33,137.83 174.33,137.98 180.00,138.40 C185.67,138.82 191.00,139.60 196.00,140.30 C201.00,141.00 205.17,141.72 210.00,142.60 C214.83,143.48 220.00,144.57 225.00,145.60 C230.00,146.63 235.83,147.80 240.00,148.80 C244.17,149.80 247.12,150.72 250.00,151.60 C252.88,152.48 256.08,153.68 257.30,154.10 L257.30,154.10 C254.42,153.93 247.88,153.57 240.00,153.10 C232.12,152.63 220.00,151.63 210.00,151.30 C200.00,150.97 190.00,150.92 180.00,151.10 C170.00,151.28 158.33,151.87 150.00,152.40 C141.67,152.93 135.83,153.75 130.00,154.30 C124.17,154.85 119.17,155.37 115.00,155.70 C110.83,156.03 107.50,156.23 105.00,156.30 C102.50,156.37 101.20,156.25 100.00,156.10 C98.80,155.95 98.30,155.70 97.80,155.40 C97.30,155.10 97.13,154.48 97.00,154.30Z" fill="#fff"/>
</g></g>
<g id="field2">
<defs><linearGradient id="q0" gradientUnits="userSpaceOnUse" x1="89.5" x2="314.5" y1="0" y2="0"><stop offset="0" stop-color="#10c554"/><stop offset="0.0311" stop-color="#10c449"/><stop offset="0.08" stop-color="#10c43a"/><stop offset="0.1956" stop-color="#0fc433"/><stop offset="0.2711" stop-color="#0fc437"/><stop offset="0.5022" stop-color="#10c65c"/><stop offset="0.7644" stop-color="#10c876"/><stop offset="1" stop-color="#10c87a"/></linearGradient>
<linearGradient id="q1" gradientUnits="userSpaceOnUse" x1="89.5" x2="314.5" y1="0" y2="0"><stop offset="0" stop-color="#10c54d"/><stop offset="0.0311" stop-color="#10c442"/><stop offset="0.08" stop-color="#0fc432"/><stop offset="0.1911" stop-color="#0fc42d"/><stop offset="0.2667" stop-color="#0fc430"/><stop offset="0.5022" stop-color="#10c558"/><stop offset="0.76" stop-color="#10c874"/><stop offset="1" stop-color="#10c87a"/></linearGradient>
<linearGradient id="q2" gradientUnits="userSpaceOnUse" x1="89.5" x2="314.5" y1="0" y2="0"><stop offset="0" stop-color="#10c448"/><stop offset="0.0311" stop-color="#10c43d"/><stop offset="0.0756" stop-color="#0fc42e"/><stop offset="0.1689" stop-color="#0fc428"/><stop offset="0.2622" stop-color="#0fc42b"/><stop offset="0.5022" stop-color="#10c556"/><stop offset="0.76" stop-color="#10c873"/><stop offset="1" stop-color="#10c87a"/></linearGradient>
<linearGradient id="q3" gradientUnits="userSpaceOnUse" x1="89.5" x2="314.5" y1="0" y2="0"><stop offset="0" stop-color="#10c444"/><stop offset="0.0311" stop-color="#0fc439"/><stop offset="0.0756" stop-color="#0fc42a"/><stop offset="0.1644" stop-color="#0fc424"/><stop offset="0.2622" stop-color="#0fc428"/><stop offset="0.5022" stop-color="#10c554"/><stop offset="0.76" stop-color="#10c872"/><stop offset="1" stop-color="#10c879"/></linearGradient>
<linearGradient id="q4" gradientUnits="userSpaceOnUse" x1="89.5" x2="314.5" y1="0" y2="0"><stop offset="0" stop-color="#10c442"/><stop offset="0.0267" stop-color="#10c43a"/><stop offset="0.0489" stop-color="#0fc42e"/><stop offset="0.12" stop-color="#0fc422"/><stop offset="0.2578" stop-color="#0fc425"/><stop offset="0.4978" stop-color="#10c551"/><stop offset="0.76" stop-color="#10c772"/><stop offset="1" stop-color="#10c879"/></linearGradient>
<linearGradient id="q5" gradientUnits="userSpaceOnUse" x1="89.5" x2="314.5" y1="0" y2="0"><stop offset="0" stop-color="#10c440"/><stop offset="0.0267" stop-color="#0fc438"/><stop offset="0.0489" stop-color="#0fc42b"/><stop offset="0.12" stop-color="#0ec41f"/><stop offset="0.2578" stop-color="#0fc422"/><stop offset="0.4978" stop-color="#10c550"/><stop offset="0.76" stop-color="#10c771"/><stop offset="1" stop-color="#10c879"/></linearGradient>
<linearGradient id="q6" gradientUnits="userSpaceOnUse" x1="89.5" x2="314.5" y1="0" y2="0"><stop offset="0" stop-color="#10c43e"/><stop offset="0.0267" stop-color="#0fc436"/><stop offset="0.0489" stop-color="#0fc429"/><stop offset="0.1156" stop-color="#0ec41d"/><stop offset="0.2578" stop-color="#0ec420"/><stop offset="0.4978" stop-color="#10c54f"/><stop offset="0.76" stop-color="#10c771"/><stop offset="1" stop-color="#10c879"/></linearGradient>
<linearGradient id="q7" gradientUnits="userSpaceOnUse" x1="89.5" x2="314.5" y1="0" y2="0"><stop offset="0" stop-color="#10c43c"/><stop offset="0.0267" stop-color="#0fc434"/><stop offset="0.0489" stop-color="#0fc427"/><stop offset="0.1156" stop-color="#0ec41b"/><stop offset="0.2578" stop-color="#0ec41e"/><stop offset="0.4978" stop-color="#10c54e"/><stop offset="0.76" stop-color="#10c770"/><stop offset="1" stop-color="#10c879"/></linearGradient>
<linearGradient id="q8" gradientUnits="userSpaceOnUse" x1="89.5" x2="314.5" y1="0" y2="0"><stop offset="0" stop-color="#10c43b"/><stop offset="0.0267" stop-color="#0fc433"/><stop offset="0.0489" stop-color="#0fc425"/><stop offset="0.1156" stop-color="#0ec418"/><stop offset="0.2578" stop-color="#0ec41c"/><stop offset="0.4978" stop-color="#10c54c"/><stop offset="0.76" stop-color="#10c76f"/><stop offset="1" stop-color="#10c879"/></linearGradient>
<linearGradient id="q9" gradientUnits="userSpaceOnUse" x1="89.5" x2="314.5" y1="0" y2="0"><stop offset="0" stop-color="#0fc439"/><stop offset="0.0267" stop-color="#0fc431"/><stop offset="0.0444" stop-color="#0fc425"/><stop offset="0.1067" stop-color="#0ec417"/><stop offset="0.2578" stop-color="#0ec41a"/><stop offset="0.4933" stop-color="#10c44b"/><stop offset="0.7556" stop-color="#10c76f"/><stop offset="1" stop-color="#10c879"/></linearGradient>
<linearGradient id="q10" gradientUnits="userSpaceOnUse" x1="89.5" x2="314.5" y1="0" y2="0"><stop offset="0" stop-color="#0fc438"/><stop offset="0.0267" stop-color="#0fc42f"/><stop offset="0.0444" stop-color="#0fc423"/><stop offset="0.1067" stop-color="#0ec414"/><stop offset="0.2578" stop-color="#0ec418"/><stop offset="0.4933" stop-color="#10c44a"/><stop offset="0.7556" stop-color="#10c76e"/><stop offset="1" stop-color="#10c878"/></linearGradient>
<linearGradient id="q11" gradientUnits="userSpaceOnUse" x1="89.5" x2="314.5" y1="0" y2="0"><stop offset="0" stop-color="#0fc436"/><stop offset="0.0267" stop-color="#0fc42e"/><stop offset="0.0444" stop-color="#0fc421"/><stop offset="0.0933" stop-color="#0fc414"/><stop offset="0.2578" stop-color="#0ec416"/><stop offset="0.4933" stop-color="#10c448"/><stop offset="0.7556" stop-color="#10c76e"/><stop offset="1" stop-color="#10c878"/></linearGradient>
<linearGradient id="q12" gradientUnits="userSpaceOnUse" x1="89.5" x2="314.5" y1="0" y2="0"><stop offset="0" stop-color="#0fc435"/><stop offset="0.0267" stop-color="#0fc42c"/><stop offset="0.0444" stop-color="#0ec41f"/><stop offset="0.0844" stop-color="#0fc414"/><stop offset="0.2489" stop-color="#0fc414"/><stop offset="0.4978" stop-color="#10c448"/><stop offset="0.7556" stop-color="#10c76d"/><stop offset="1" stop-color="#10c878"/></linearGradient>
<linearGradient id="q13" gradientUnits="userSpaceOnUse" x1="89.5" x2="314.5" y1="0" y2="0"><stop offset="0" stop-color="#0fc433"/><stop offset="0.0267" stop-color="#0fc42b"/><stop offset="0.0444" stop-color="#0ec41c"/><stop offset="0.0756" stop-color="#10c414"/><stop offset="0.1689" stop-color="#13c413"/><stop offset="0.28" stop-color="#0ec417"/><stop offset="0.4889" stop-color="#10c445"/><stop offset="0.7556" stop-color="#10c76d"/><stop offset="1" stop-color="#10c879"/></linearGradient>
<linearGradient id="q14" gradientUnits="userSpaceOnUse" x1="89.5" x2="314.5" y1="0" y2="0"><stop offset="0" stop-color="#0fc432"/><stop offset="0.0267" stop-color="#0fc429"/><stop offset="0.0444" stop-color="#0ec41a"/><stop offset="0.0711" stop-color="#11c413"/><stop offset="0.1378" stop-color="#15c412"/><stop offset="0.2667" stop-color="#10c414"/><stop offset="0.4978" stop-color="#10c446"/><stop offset="0.7556" stop-color="#10c76c"/><stop offset="0.9378" stop-color="#10c877"/><stop offset="1" stop-color="#10c77e"/></linearGradient>
<linearGradient id="q15" gradientUnits="userSpaceOnUse" x1="89.5" x2="314.5" y1="0" y2="0"><stop offset="0" stop-color="#0fc430"/><stop offset="0.0267" stop-color="#0fc427"/><stop offset="0.0444" stop-color="#0ec418"/><stop offset="0.0756" stop-color="#14c413"/><stop offset="0.1467" stop-color="#16c412"/><stop offset="0.2667" stop-color="#11c413"/><stop offset="0.3244" stop-color="#0ec41d"/><stop offset="0.4889" stop-color="#10c443"/><stop offset="0.7556" stop-color="#10c76c"/><stop offset="0.8844" stop-color="#10c874"/><stop offset="1" stop-color="#10c686"/></linearGradient>
<linearGradient id="q16" gradientUnits="userSpaceOnUse" x1="89.5" x2="314.5" y1="0" y2="0"><stop offset="0" stop-color="#0fc42f"/><stop offset="0.0267" stop-color="#0fc425"/><stop offset="0.0444" stop-color="#0ec415"/><stop offset="0.1067" stop-color="#1ac411"/><stop offset="0.2667" stop-color="#12c413"/><stop offset="0.32" stop-color="#0ec41a"/><stop offset="0.4889" stop-color="#10c442"/><stop offset="0.7556" stop-color="#10c76b"/><stop offset="0.8356" stop-color="#10c772"/><stop offset="0.9422" stop-color="#10c588"/><stop offset="1" stop-color="#10c48f"/></linearGradient>
<linearGradient id="q17" gradientUnits="userSpaceOnUse" x1="89.5" x2="314.5" y1="0" y2="0"><stop offset="0" stop-color="#0fc42d"/><stop offset="0.0267" stop-color="#0fc424"/><stop offset="0.04" stop-color="#0ec415"/><stop offset="0.0978" stop-color="#1cc411"/><stop offset="0.2667" stop-color="#14c413"/><stop offset="0.32" stop-color="#0ec418"/><stop offset="0.4844" stop-color="#10c440"/><stop offset="0.7511" stop-color="#10c76a"/><stop offset="0.7911" stop-color="#10c770"/><stop offset="0.8533" stop-color="#10c685"/><stop offset="0.9689" stop-color="#10c099"/><stop offset="1" stop-color="#10bf9b"/></linearGradient>
<linearGradient id="q18" gradientUnits="userSpaceOnUse" x1="89.5" x2="314.5" y1="0" y2="0"><stop offset="0" stop-color="#0fc42b"/><stop offset="0.0267" stop-color="#0fc422"/><stop offset="0.04" stop-color="#0fc414"/><stop offset="0.0933" stop-color="#1ec410"/><stop offset="0.2667" stop-color="#15c412"/><stop offset="0.3244" stop-color="#0ec417"/><stop offset="0.4844" stop-color="#10c43e"/><stop offset="0.7378" stop-color="#10c76b"/><stop offset="0.7911" stop-color="#10c685"/><stop offset="0.8711" stop-color="#10bf9d"/><stop offset="0.96" stop-color="#10baa8"/><stop offset="1" stop-color="#10baa7"/></linearGradient>
<linearGradient id="q19" gradientUnits="userSpaceOnUse" x1="89.5" x2="314.5" y1="0" y2="0"><stop offset="0" stop-color="#0fc42a"/><stop offset="0.0267" stop-color="#0ec420"/><stop offset="0.0356" stop-color="#0fc414"/><stop offset="0.08" stop-color="#20c410"/><stop offset="0.1333" stop-color="#21c410"/><stop offset="0.2756" stop-color="#15c412"/><stop offset="0.3333" stop-color="#0ec417"/><stop offset="0.4844" stop-color="#10c43d"/><stop offset="0.6711" stop-color="#10c660"/><stop offset="0.7422" stop-color="#10c58a"/><stop offset="0.8089" stop-color="#10b8ab"/><stop offset="0.9156" stop-color="#10b1b4"/><stop offset="1" stop-color="#10b4b0"/></linearGradient>
<linearGradient id="q20" gradientUnits="userSpaceOnUse" x1="89.5" x2="314.5" y1="0" y2="0"><stop offset="0" stop-color="#0fc428"/><stop offset="0.0267" stop-color="#0ec41e"/><stop offset="0.0356" stop-color="#11c413"/><stop offset="0.08" stop-color="#24c40f"/><stop offset="0.1289" stop-color="#24c40f"/><stop offset="0.2844" stop-color="#15c412"/><stop offset="0.3422" stop-color="#0ec418"/><stop offset="0.4844" stop-color="#10c43c"/><stop offset="0.5778" stop-color="#10c54e"/><stop offset="0.6178" stop-color="#10c76f"/><stop offset="0.6356" stop-color="#10c77c"/><stop offset="0.7111" stop-color="#10be9e"/><stop offset="0.7422" stop-color="#10b2b4"/><stop offset="0.7956" stop-color="#10a4c2"/><stop offset="0.8578" stop-color="#10a4c2"/><stop offset="0.9822" stop-color="#10adba"/><stop offset="1" stop-color="#10afb7"/></linearGradient>
<linearGradient id="q21" gradientUnits="userSpaceOnUse" x1="89.5" x2="314.5" y1="0" y2="0"><stop offset="0" stop-color="#0fc427"/><stop offset="0.0267" stop-color="#0ec41c"/><stop offset="0.0311" stop-color="#0ec414"/><stop offset="0.0622" stop-color="#22c40f"/><stop offset="0.0978" stop-color="#2bc40d"/><stop offset="0.2889" stop-color="#16c412"/><stop offset="0.3467" stop-color="#0ec417"/><stop offset="0.4844" stop-color="#10c43d"/><stop offset="0.5244" stop-color="#10c878"/><stop offset="0.5822" stop-color="#10bba4"/><stop offset="0.6311" stop-color="#10aeb9"/><stop offset="0.7022" stop-color="#109cc6"/><stop offset="0.7289" stop-color="#108fcc"/><stop offset="0.7644" stop-color="#1085cf"/><stop offset="0.8133" stop-color="#1085cf"/><stop offset="0.8933" stop-color="#1098c8"/><stop offset="1" stop-color="#10abbc"/></linearGradient>
<linearGradient id="q22" gradientUnits="userSpaceOnUse" x1="89.5" x2="314.5" y1="0" y2="0"><stop offset="0" stop-color="#0fc425"/><stop offset="0.0267" stop-color="#0ec41a"/><stop offset="0.0311" stop-color="#10c414"/><stop offset="0.0578" stop-color="#24c40f"/><stop offset="0.0933" stop-color="#2fc40c"/><stop offset="0.1422" stop-color="#29c40e"/><stop offset="0.2889" stop-color="#17c412"/><stop offset="0.3244" stop-color="#0ec415"/><stop offset="0.3333" stop-color="#0ec41e"/><stop offset="0.3378" stop-color="#0fc42d"/><stop offset="0.3422" stop-color="#10c553"/><stop offset="0.3467" stop-color="#10c780"/><stop offset="0.3511" stop-color="#10bca2"/><stop offset="0.3556" stop-color="#10a9be"/><stop offset="0.36" stop-color="#1092cb"/><stop offset="0.3644" stop-color="#107cd1"/><stop offset="0.3689" stop-color="#106ed4"/><stop offset="0.3778" stop-color="#1067d3"/><stop offset="0.44" stop-color="#105ad2"/><stop offset="0.4622" stop-color="#1058d2"/><stop offset="0.5156" stop-color="#106ed4"/><stop offset="0.64" stop-color="#1069d3"/><stop offset="0.7156" stop-color="#1063d3"/><stop offset="0.7378" stop-color="#1059d2"/><stop offset="0.8044" stop-color="#1069d3"/><stop offset="0.88" stop-color="#108ccd"/><stop offset="1" stop-color="#10aabe"/></linearGradient>
<linearGradient id="q23" gradientUnits="userSpaceOnUse" x1="89.5" x2="314.5" y1="0" y2="0"><stop offset="0" stop-color="#0fc423"/><stop offset="0.0267" stop-color="#0ec418"/><stop offset="0.04" stop-color="#1cc411"/><stop offset="0.08" stop-color="#35c50c"/><stop offset="0.1156" stop-color="#36c50c"/><stop offset="0.1822" stop-color="#25c40f"/><stop offset="0.3111" stop-color="#13c413"/><stop offset="0.3156" stop-color="#10c414"/><stop offset="0.32" stop-color="#0fc426"/><stop offset="0.3244" stop-color="#10c44b"/><stop offset="0.3289" stop-color="#10c879"/><stop offset="0.3333" stop-color="#10c393"/><stop offset="0.3378" stop-color="#10b4b1"/><stop offset="0.3422" stop-color="#109fc4"/><stop offset="0.3511" stop-color="#1072d4"/><stop offset="0.3556" stop-color="#1062d3"/><stop offset="0.4044" stop-color="#1047d1"/><stop offset="0.64" stop-color="#1040d0"/><stop offset="0.7378" stop-color="#0f3cce"/><stop offset="0.8133" stop-color="#1063d3"/><stop offset="0.8711" stop-color="#1086cf"/><stop offset="0.9956" stop-color="#10a0c4"/><stop offset="1" stop-color="#10a0c4"/></linearGradient>
<linearGradient id="q24" gradientUnits="userSpaceOnUse" x1="89.5" x2="314.5" y1="0" y2="0"><stop offset="0" stop-color="#0fc421"/><stop offset="0.0267" stop-color="#0ec415"/><stop offset="0.0444" stop-color="#24c40f"/><stop offset="0.08" stop-color="#3fc60b"/><stop offset="0.1111" stop-color="#40c60b"/><stop offset="0.1689" stop-color="#29c40e"/><stop offset="0.1733" stop-color="#22c40f"/><stop offset="0.2667" stop-color="#1bc411"/><stop offset="0.3156" stop-color="#10c414"/><stop offset="0.32" stop-color="#0fc429"/><stop offset="0.3289" stop-color="#10c77f"/><stop offset="0.3333" stop-color="#10be9e"/><stop offset="0.3378" stop-color="#10abbc"/><stop offset="0.3422" stop-color="#108fcc"/><stop offset="0.3467" stop-color="#1071d4"/><stop offset="0.3511" stop-color="#1053d2"/><stop offset="0.3556" stop-color="#1041d0"/><stop offset="0.4044" stop-color="#0c2dc5"/><stop offset="0.5644" stop-color="#0d31c7"/><stop offset="0.72" stop-color="#0e38cb"/><stop offset="0.7422" stop-color="#0f39cc"/><stop offset="0.8044" stop-color="#1055d2"/><stop offset="0.8667" stop-color="#1079d2"/><stop offset="1" stop-color="#108acd"/></linearGradient>
<linearGradient id="q25" gradientUnits="userSpaceOnUse" x1="89.5" x2="314.5" y1="0" y2="0"><stop offset="0" stop-color="#0ec420"/><stop offset="0.0267" stop-color="#0fc414"/><stop offset="0.04" stop-color="#24c40f"/><stop offset="0.08" stop-color="#4ac70a"/><stop offset="0.1067" stop-color="#4cc70a"/><stop offset="0.1289" stop-color="#41c60b"/><stop offset="0.1378" stop-color="#39c50b"/><stop offset="0.1422" stop-color="#24c40f"/><stop offset="0.2622" stop-color="#1bc411"/><stop offset="0.3156" stop-color="#10c414"/><stop offset="0.32" stop-color="#0fc42b"/><stop offset="0.3289" stop-color="#10c685"/><stop offset="0.3333" stop-color="#10baa8"/><stop offset="0.3378" stop-color="#10a2c3"/><stop offset="0.3422" stop-color="#1080d0"/><stop offset="0.3467" stop-color="#105cd2"/><stop offset="0.3511" stop-color="#0f3dce"/><stop offset="0.3556" stop-color="#0c2ec5"/><stop offset="0.4756" stop-color="#0819b9"/><stop offset="0.5644" stop-color="#081ab9"/><stop offset="0.7289" stop-color="#0c2bc3"/><stop offset="0.7467" stop-color="#0c2dc5"/><stop offset="0.8133" stop-color="#1046d0"/><stop offset="0.8756" stop-color="#1065d3"/><stop offset="1" stop-color="#1079d2"/></linearGradient>
<linearGradient id="q26" gradientUnits="userSpaceOnUse" x1="89.5" x2="314.5" y1="0" y2="0"><stop offset="0" stop-color="#0ec41e"/><stop offset="0.0267" stop-color="#11c413"/><stop offset="0.04" stop-color="#29c40e"/><stop offset="0.0667" stop-color="#4cc70a"/><stop offset="0.08" stop-color="#59c909"/><stop offset="0.1067" stop-color="#59c909"/><stop offset="0.1156" stop-color="#50c80a"/><stop offset="0.12" stop-color="#25c40f"/><stop offset="0.2622" stop-color="#1bc411"/><stop offset="0.3156" stop-color="#10c414"/><stop offset="0.32" stop-color="#0fc42c"/><stop offset="0.3289" stop-color="#10c685"/><stop offset="0.3333" stop-color="#10b9a9"/><stop offset="0.3378" stop-color="#10a1c4"/><stop offset="0.3422" stop-color="#107fd0"/><stop offset="0.3467" stop-color="#105bd2"/><stop offset="0.3511" stop-color="#0f3cce"/><stop offset="0.3556" stop-color="#0c2dc5"/><stop offset="0.4889" stop-color="#0817b6"/><stop offset="0.5822" stop-color="#0815af"/><stop offset="0.7422" stop-color="#081ab9"/><stop offset="0.8311" stop-color="#0f3acd"/><stop offset="0.88" stop-color="#1051d1"/><stop offset="1" stop-color="#1079d2"/></linearGradient>
<linearGradient id="q27" gradientUnits="userSpaceOnUse" x1="89.5" x2="314.5" y1="0" y2="0"><stop offset="0" stop-color="#0ec41c"/><stop offset="0.0222" stop-color="#0fc414"/><stop offset="0.0267" stop-color="#12c413"/><stop offset="0.04" stop-color="#2fc40c"/><stop offset="0.0578" stop-color="#4fc80a"/><stop offset="0.08" stop-color="#6acb08"/><stop offset="0.0933" stop-color="#6bcb08"/><stop offset="0.0978" stop-color="#66cb09"/><stop offset="0.1022" stop-color="#26c40e"/><stop offset="0.2622" stop-color="#1bc411"/><stop offset="0.3156" stop-color="#10c414"/><stop offset="0.32" stop-color="#0fc42c"/><stop offset="0.3289" stop-color="#10c685"/><stop offset="0.3333" stop-color="#10b9a9"/><stop offset="0.3378" stop-color="#10a1c4"/><stop offset="0.3422" stop-color="#107fd0"/><stop offset="0.3467" stop-color="#105bd2"/><stop offset="0.3511" stop-color="#0f3cce"/><stop offset="0.3556" stop-color="#0c2dc5"/><stop offset="0.4889" stop-color="#0817b6"/><stop offset="0.6356" stop-color="#0814ac"/><stop offset="0.7467" stop-color="#0815b0"/><stop offset="0.7911" stop-color="#091cbb"/><stop offset="0.8622" stop-color="#1042d0"/><stop offset="0.9556" stop-color="#106ad4"/><stop offset="0.9778" stop-color="#1085cf"/><stop offset="1" stop-color="#10a7c1"/></linearGradient>
<linearGradient id="q28" gradientUnits="userSpaceOnUse" x1="89.5" x2="314.5" y1="0" y2="0"><stop offset="0" stop-color="#0ec41a"/><stop offset="0.0222" stop-color="#10c413"/><stop offset="0.0267" stop-color="#14c413"/><stop offset="0.0444" stop-color="#42c60b"/><stop offset="0.0533" stop-color="#58c90a"/><stop offset="0.0756" stop-color="#7dcd08"/><stop offset="0.08" stop-color="#7bcd08"/><stop offset="0.0844" stop-color="#25c40f"/><stop offset="0.2489" stop-color="#1ec410"/><stop offset="0.2533" stop-color="#1ac411"/><stop offset="0.2578" stop-color="#0ec416"/><stop offset="0.2622" stop-color="#0fc42c"/><stop offset="0.28" stop-color="#10c76f"/><stop offset="0.2889" stop-color="#10c686"/><stop offset="0.3067" stop-color="#10b7ad"/><stop offset="0.3156" stop-color="#10b0b6"/><stop offset="0.3911" stop-color="#10b0b6"/><stop offset="0.4267" stop-color="#10b4b1"/><stop offset="0.4489" stop-color="#10a7c0"/><stop offset="0.4667" stop-color="#108ace"/><stop offset="0.4756" stop-color="#1075d3"/><stop offset="0.4889" stop-color="#1045d0"/><stop offset="0.5022" stop-color="#0a23be"/><stop offset="0.5111" stop-color="#0817b6"/><stop offset="0.5556" stop-color="#0815af"/><stop offset="0.7422" stop-color="#0813aa"/><stop offset="0.7956" stop-color="#091bba"/><stop offset="0.8667" stop-color="#1045d0"/><stop offset="0.9111" stop-color="#105ad2"/><stop offset="0.9289" stop-color="#1077d2"/><stop offset="0.9511" stop-color="#10a0c4"/><stop offset="0.9689" stop-color="#10b6af"/><stop offset="0.9911" stop-color="#10c491"/><stop offset="1" stop-color="#10c58a"/></linearGradient>
<linearGradient id="q29" gradientUnits="userSpaceOnUse" x1="89.5" x2="314.5" y1="0" y2="0"><stop offset="0" stop-color="#0ec418"/><stop offset="0.0222" stop-color="#12c413"/><stop offset="0.0267" stop-color="#17c412"/><stop offset="0.04" stop-color="#44c70b"/><stop offset="0.0533" stop-color="#69cb08"/><stop offset="0.0667" stop-color="#87cd08"/><stop offset="0.0711" stop-color="#85cd08"/><stop offset="0.0756" stop-color="#25c40f"/><stop offset="0.2" stop-color="#21c410"/><stop offset="0.2044" stop-color="#1bc411"/><stop offset="0.2089" stop-color="#0ec418"/><stop offset="0.2133" stop-color="#10c43b"/><stop offset="0.2178" stop-color="#10c766"/><stop offset="0.2222" stop-color="#10c686"/><stop offset="0.2311" stop-color="#10b0b6"/><stop offset="0.2356" stop-color="#109fc4"/><stop offset="0.2444" stop-color="#1082cf"/><stop offset="0.2489" stop-color="#107dd1"/><stop offset="0.4711" stop-color="#10a9be"/><stop offset="0.5111" stop-color="#10afb7"/><stop offset="0.5333" stop-color="#10b8ac"/><stop offset="0.5422" stop-color="#10b4b1"/><stop offset="0.5467" stop-color="#10adba"/><stop offset="0.5511" stop-color="#109fc4"/><stop offset="0.56" stop-color="#1072d3"/><stop offset="0.5644" stop-color="#1052d1"/><stop offset="0.5689" stop-color="#0e35c9"/><stop offset="0.5733" stop-color="#091fbc"/><stop offset="0.5778" stop-color="#0816b3"/><stop offset="0.5867" stop-color="#0814ae"/><stop offset="0.7422" stop-color="#0813aa"/><stop offset="0.7956" stop-color="#091bba"/><stop offset="0.8622" stop-color="#1042d0"/><stop offset="0.8756" stop-color="#105bd2"/><stop offset="0.8889" stop-color="#107bd1"/><stop offset="0.9067" stop-color="#10a3c3"/><stop offset="0.9244" stop-color="#10b9a9"/><stop offset="0.9422" stop-color="#10c48f"/><stop offset="0.9644" stop-color="#10c685"/><stop offset="1" stop-color="#10c588"/></linearGradient>
<linearGradient id="q30" gradientUnits="userSpaceOnUse" x1="89.5" x2="314.5" y1="0" y2="0"><stop offset="0" stop-color="#0ec416"/><stop offset="0.0222" stop-color="#13c413"/><stop offset="0.0267" stop-color="#19c411"/><stop offset="0.0311" stop-color="#2ac40d"/><stop offset="0.04" stop-color="#54c80a"/><stop offset="0.0489" stop-color="#6ecc08"/><stop offset="0.0533" stop-color="#82cd08"/><stop offset="0.0578" stop-color="#8ecd08"/><stop offset="0.0622" stop-color="#8ccd08"/><stop offset="0.0667" stop-color="#24c40f"/><stop offset="0.16" stop-color="#23c40f"/><stop offset="0.1644" stop-color="#12c413"/><stop offset="0.1689" stop-color="#10c441"/><stop offset="0.1733" stop-color="#10c77e"/><stop offset="0.1778" stop-color="#10bba5"/><stop offset="0.1822" stop-color="#10a9bf"/><stop offset="0.1867" stop-color="#1094ca"/><stop offset="0.1911" stop-color="#1082cf"/><stop offset="0.1956" stop-color="#1077d2"/><stop offset="0.2044" stop-color="#1074d3"/><stop offset="0.4222" stop-color="#10a2c3"/><stop offset="0.4978" stop-color="#10abbc"/><stop offset="0.5778" stop-color="#10b2b3"/><stop offset="0.5867" stop-color="#10b9aa"/><stop offset="0.5911" stop-color="#10b9a9"/><stop offset="0.6" stop-color="#10b0b5"/><stop offset="0.6044" stop-color="#10a5c2"/><stop offset="0.6089" stop-color="#108dcd"/><stop offset="0.6133" stop-color="#106ed4"/><stop offset="0.6178" stop-color="#1046d1"/><stop offset="0.6222" stop-color="#0b28c1"/><stop offset="0.6267" stop-color="#0816b4"/><stop offset="0.6311" stop-color="#0814ac"/><stop offset="0.7422" stop-color="#0813aa"/><stop offset="0.7956" stop-color="#091bba"/><stop offset="0.8222" stop-color="#0c2ac3"/><stop offset="0.8311" stop-color="#0f3cce"/><stop offset="0.8444" stop-color="#1070d4"/><stop offset="0.8622" stop-color="#10a7c1"/><stop offset="0.8756" stop-color="#10baa7"/><stop offset="0.8889" stop-color="#10c490"/><stop offset="0.9067" stop-color="#10c685"/><stop offset="1" stop-color="#10c48e"/></linearGradient>
<linearGradient id="q31" gradientUnits="userSpaceOnUse" x1="89.5" x2="314.5" y1="0" y2="0"><stop offset="0" stop-color="#0ec414"/><stop offset="0.0222" stop-color="#15c412"/><stop offset="0.0267" stop-color="#1cc411"/><stop offset="0.0311" stop-color="#33c40c"/><stop offset="0.0356" stop-color="#59c909"/><stop offset="0.04" stop-color="#69cb08"/><stop offset="0.0444" stop-color="#73cc08"/><stop offset="0.0489" stop-color="#89cd08"/><stop offset="0.0533" stop-color="#24c40f"/><stop offset="0.1244" stop-color="#25c40f"/><stop offset="0.1289" stop-color="#19c411"/><stop offset="0.1333" stop-color="#0fc432"/><stop offset="0.1378" stop-color="#10c876"/><stop offset="0.1422" stop-color="#10be9e"/><stop offset="0.1467" stop-color="#10a8c0"/><stop offset="0.1511" stop-color="#1088ce"/><stop offset="0.1556" stop-color="#1071d4"/><stop offset="0.16" stop-color="#106ad3"/><stop offset="0.3867" stop-color="#109bc7"/><stop offset="0.4756" stop-color="#10aabe"/><stop offset="0.6267" stop-color="#10b5b0"/><stop offset="0.6356" stop-color="#10bba6"/><stop offset="0.64" stop-color="#10baa8"/><stop offset="0.6444" stop-color="#10b5b0"/><stop offset="0.6489" stop-color="#10aabe"/><stop offset="0.6533" stop-color="#1094ca"/><stop offset="0.6578" stop-color="#1077d2"/><stop offset="0.6622" stop-color="#1051d1"/><stop offset="0.6667" stop-color="#0c2ec5"/><stop offset="0.6711" stop-color="#0817b4"/><stop offset="0.6756" stop-color="#0813aa"/><stop offset="0.7422" stop-color="#0813aa"/><stop offset="0.7822" stop-color="#0818b7"/><stop offset="0.7867" stop-color="#0a20bd"/><stop offset="0.7956" stop-color="#103fcf"/><stop offset="0.8044" stop-color="#106dd4"/><stop offset="0.8178" stop-color="#10a1c3"/><stop offset="0.8267" stop-color="#10b5af"/><stop offset="0.84" stop-color="#10c491"/><stop offset="0.8533" stop-color="#10c686"/><stop offset="0.96" stop-color="#10c392"/><stop offset="1" stop-color="#10c392"/></linearGradient>
<linearGradient id="q32" gradientUnits="userSpaceOnUse" x1="89.5" x2="314.5" y1="0" y2="0"><stop offset="0" stop-color="#0fc414"/><stop offset="0.0222" stop-color="#16c412"/><stop offset="0.0267" stop-color="#20c410"/><stop offset="0.0356" stop-color="#8dcd08"/><stop offset="0.04" stop-color="#83cd08"/><stop offset="0.0444" stop-color="#8fcd08"/><stop offset="0.0489" stop-color="#23c40f"/><stop offset="0.0978" stop-color="#26c40e"/><stop offset="0.1022" stop-color="#0fc414"/><stop offset="0.1067" stop-color="#10c767"/><stop offset="0.1111" stop-color="#10baa7"/><stop offset="0.1156" stop-color="#1092cb"/><stop offset="0.12" stop-color="#106fd4"/><stop offset="0.1244" stop-color="#1061d3"/><stop offset="0.2711" stop-color="#1081d0"/><stop offset="0.4711" stop-color="#10a9be"/><stop offset="0.6711" stop-color="#10b7ad"/><stop offset="0.68" stop-color="#10bca3"/><stop offset="0.6844" stop-color="#10b7ad"/><stop offset="0.6889" stop-color="#10a9be"/><stop offset="0.6933" stop-color="#108acd"/><stop offset="0.6978" stop-color="#105ed3"/><stop offset="0.7022" stop-color="#0d2fc6"/><stop offset="0.7067" stop-color="#0816b3"/><stop offset="0.7111" stop-color="#0812a9"/><stop offset="0.7333" stop-color="#0812a8"/><stop offset="0.7422" stop-color="#091dbb"/><stop offset="0.7511" stop-color="#1042d0"/><stop offset="0.76" stop-color="#106cd4"/><stop offset="0.7689" stop-color="#108dcd"/><stop offset="0.7778" stop-color="#10aeb9"/><stop offset="0.7867" stop-color="#10be9f"/><stop offset="0.7956" stop-color="#10c58d"/><stop offset="0.8044" stop-color="#10c687"/><stop offset="0.8844" stop-color="#10c296"/><stop offset="1" stop-color="#10c295"/></linearGradient>
<linearGradient id="q33" gradientUnits="userSpaceOnUse" x1="89.5" x2="314.5" y1="0" y2="0"><stop offset="0" stop-color="#11c413"/><stop offset="0.0222" stop-color="#18c412"/><stop offset="0.0267" stop-color="#33c40c"/><stop offset="0.0311" stop-color="#bed008"/><stop offset="0.0356" stop-color="#c6d008"/><stop offset="0.04" stop-color="#9ace08"/><stop offset="0.0444" stop-color="#23c40f"/><stop offset="0.0711" stop-color="#24c40f"/><stop offset="0.0756" stop-color="#20c410"/><stop offset="0.08" stop-color="#10c44b"/><stop offset="0.0844" stop-color="#10c294"/><stop offset="0.0889" stop-color="#10a0c4"/><stop offset="0.0933" stop-color="#1074d3"/><stop offset="0.0978" stop-color="#105cd2"/><stop offset="0.2489" stop-color="#107cd1"/><stop offset="0.4711" stop-color="#10a9be"/><stop offset="0.7067" stop-color="#10b9a9"/><stop offset="0.7156" stop-color="#10bda0"/><stop offset="0.72" stop-color="#10b9a9"/><stop offset="0.7244" stop-color="#10aeb9"/><stop offset="0.7289" stop-color="#1095ca"/><stop offset="0.7333" stop-color="#1077d2"/><stop offset="0.7378" stop-color="#10c77e"/><stop offset="0.7778" stop-color="#10c393"/><stop offset="0.84" stop-color="#10bf9c"/><stop offset="1" stop-color="#10c295"/></linearGradient>
<linearGradient id="q34" gradientUnits="userSpaceOnUse" x1="89.5" x2="314.5" y1="0" y2="0"><stop offset="0" stop-color="#12c413"/><stop offset="0.0178" stop-color="#17c412"/><stop offset="0.0222" stop-color="#1fc410"/><stop offset="0.0267" stop-color="#8acd08"/><stop offset="0.0311" stop-color="#f08500"/><stop offset="0.0356" stop-color="#cace08"/><stop offset="0.04" stop-color="#24c40f"/><stop offset="0.0578" stop-color="#21c410"/><stop offset="0.0622" stop-color="#10c441"/><stop offset="0.0667" stop-color="#10bba6"/><stop offset="0.0711" stop-color="#107dd1"/><stop offset="0.0756" stop-color="#1062d3"/><stop offset="0.1067" stop-color="#105dd2"/><stop offset="0.2533" stop-color="#107dd1"/><stop offset="0.3689" stop-color="#1097c9"/><stop offset="0.3733" stop-color="#1079d2"/><stop offset="0.4222" stop-color="#1090cc"/><stop offset="0.5156" stop-color="#10a4c2"/><stop offset="0.7333" stop-color="#10b3b3"/><stop offset="0.7378" stop-color="#10bca2"/><stop offset="0.9867" stop-color="#10c295"/><stop offset="1" stop-color="#10c294"/></linearGradient>
<linearGradient id="q35" gradientUnits="userSpaceOnUse" x1="89.5" x2="314.5" y1="0" y2="0"><stop offset="0" stop-color="#13c413"/><stop offset="0.0178" stop-color="#19c411"/><stop offset="0.0222" stop-color="#37c50c"/><stop offset="0.0267" stop-color="#f0af00"/><stop offset="0.0311" stop-color="#f09500"/><stop offset="0.0356" stop-color="#30c40c"/><stop offset="0.04" stop-color="#22c40f"/><stop offset="0.0444" stop-color="#20c410"/><stop offset="0.0489" stop-color="#10c587"/><stop offset="0.0533" stop-color="#107ad1"/><stop offset="0.0578" stop-color="#1066d3"/><stop offset="0.1022" stop-color="#105bd2"/><stop offset="0.2489" stop-color="#107cd1"/><stop offset="0.2667" stop-color="#1080d0"/><stop offset="0.2711" stop-color="#105ed2"/><stop offset="0.3156" stop-color="#1079d2"/><stop offset="0.4089" stop-color="#109ac7"/><stop offset="0.4889" stop-color="#10a9bf"/><stop offset="0.7333" stop-color="#10b9aa"/><stop offset="0.7378" stop-color="#10bba5"/><stop offset="1" stop-color="#10c294"/></linearGradient>
<linearGradient id="q36" gradientUnits="userSpaceOnUse" x1="89.5" x2="314.5" y1="0" y2="0"><stop offset="0" stop-color="#15c412"/><stop offset="0.0133" stop-color="#19c412"/><stop offset="0.0178" stop-color="#1dc410"/><stop offset="0.0222" stop-color="#69cb08"/><stop offset="0.0267" stop-color="#f0af00"/><stop offset="0.0311" stop-color="#c8d008"/><stop offset="0.0356" stop-color="#0fc429"/><stop offset="0.04" stop-color="#1096c9"/><stop offset="0.0444" stop-color="#1074d3"/><stop offset="0.0533" stop-color="#1065d3"/><stop offset="0.1022" stop-color="#105ad2"/><stop offset="0.2133" stop-color="#1075d3"/><stop offset="0.2178" stop-color="#1052d1"/><stop offset="0.2533" stop-color="#1072d4"/><stop offset="0.3644" stop-color="#1096c9"/><stop offset="0.4667" stop-color="#10aabe"/><stop offset="0.8311" stop-color="#10be9e"/><stop offset="1" stop-color="#10c393"/></linearGradient>
<linearGradient id="q37" gradientUnits="userSpaceOnUse" x1="89.5" x2="314.5" y1="0" y2="0"><stop offset="0" stop-color="#16c412"/><stop offset="0.0133" stop-color="#1ac411"/><stop offset="0.0178" stop-color="#24c40f"/><stop offset="0.0222" stop-color="#73cc08"/><stop offset="0.0267" stop-color="#94ce08"/><stop offset="0.0311" stop-color="#10b1b5"/><stop offset="0.0356" stop-color="#1081d0"/><stop offset="0.0489" stop-color="#1063d3"/><stop offset="0.0578" stop-color="#105cd2"/><stop offset="0.1022" stop-color="#1058d2"/><stop offset="0.1644" stop-color="#106bd4"/><stop offset="0.1689" stop-color="#1046d1"/><stop offset="0.2044" stop-color="#1066d3"/><stop offset="0.2533" stop-color="#107dd1"/><stop offset="0.4267" stop-color="#10a6c1"/><stop offset="0.76" stop-color="#10bca2"/><stop offset="1" stop-color="#10c393"/></linearGradient>
<linearGradient id="q38" gradientUnits="userSpaceOnUse" x1="89.5" x2="314.5" y1="0" y2="0"><stop offset="0" stop-color="#17c412"/><stop offset="0.0133" stop-color="#18c412"/><stop offset="0.0178" stop-color="#20c410"/><stop offset="0.0222" stop-color="#33c40c"/><stop offset="0.0267" stop-color="#26c40e"/><stop offset="0.0311" stop-color="#1083cf"/><stop offset="0.04" stop-color="#1061d3"/><stop offset="0.0489" stop-color="#103fcf"/><stop offset="0.0533" stop-color="#0f3bcd"/><stop offset="0.0756" stop-color="#1051d1"/><stop offset="0.1067" stop-color="#1057d2"/><stop offset="0.1156" stop-color="#105bd2"/><stop offset="0.12" stop-color="#0e38cb"/><stop offset="0.1378" stop-color="#104bd1"/><stop offset="0.1822" stop-color="#106bd4"/><stop offset="0.2844" stop-color="#108acd"/><stop offset="0.4578" stop-color="#10acbb"/><stop offset="0.8311" stop-color="#10bf9d"/><stop offset="1" stop-color="#10c393"/></linearGradient>
<linearGradient id="q39" gradientUnits="userSpaceOnUse" x1="89.5" x2="314.5" y1="0" y2="0"><stop offset="0" stop-color="#0ec419"/><stop offset="0.0089" stop-color="#0fc42b"/><stop offset="0.0133" stop-color="#10c43d"/><stop offset="0.0178" stop-color="#10c555"/><stop offset="0.0222" stop-color="#10c683"/><stop offset="0.0267" stop-color="#10b8ac"/><stop offset="0.0311" stop-color="#1072d4"/><stop offset="0.0356" stop-color="#104cd1"/><stop offset="0.04" stop-color="#0b28c1"/><stop offset="0.0444" stop-color="#0814ac"/><stop offset="0.0489" stop-color="#080e9d"/><stop offset="0.0578" stop-color="#080c98"/><stop offset="0.0622" stop-color="#0810a2"/><stop offset="0.0711" stop-color="#091fbc"/><stop offset="0.08" stop-color="#0d30c6"/><stop offset="0.1111" stop-color="#104ad1"/><stop offset="0.1422" stop-color="#1062d3"/><stop offset="0.2" stop-color="#1078d2"/><stop offset="0.4178" stop-color="#10a8c0"/><stop offset="0.76" stop-color="#10bda1"/><stop offset="1" stop-color="#10c392"/></linearGradient>
<linearGradient id="q40" gradientUnits="userSpaceOnUse" x1="89.5" x2="314.5" y1="0" y2="0"><stop offset="0" stop-color="#10c442"/><stop offset="0.0044" stop-color="#10c554"/><stop offset="0.0133" stop-color="#10c686"/><stop offset="0.0178" stop-color="#10bba4"/><stop offset="0.0222" stop-color="#109fc5"/><stop offset="0.0267" stop-color="#1083cf"/><stop offset="0.0311" stop-color="#1065d3"/><stop offset="0.0356" stop-color="#0e36ca"/><stop offset="0.04" stop-color="#0814ad"/><stop offset="0.0444" stop-color="#080c98"/><stop offset="0.0578" stop-color="#080c98"/><stop offset="0.0622" stop-color="#080e9d"/><stop offset="0.0667" stop-color="#0816b2"/><stop offset="0.0711" stop-color="#0b26c0"/><stop offset="0.0756" stop-color="#0d33c8"/><stop offset="0.0889" stop-color="#1042d0"/><stop offset="0.1333" stop-color="#1066d3"/><stop offset="0.1867" stop-color="#1078d2"/><stop offset="0.4178" stop-color="#10a9bf"/><stop offset="0.76" stop-color="#10bda0"/><stop offset="1" stop-color="#10c392"/></linearGradient>
<linearGradient id="q41" gradientUnits="userSpaceOnUse" x1="89.5" x2="314.5" y1="0" y2="0"><stop offset="0" stop-color="#10c876"/><stop offset="0.0089" stop-color="#10c197"/><stop offset="0.0133" stop-color="#10b6ae"/><stop offset="0.0178" stop-color="#10a8c0"/><stop offset="0.0267" stop-color="#1089ce"/><stop offset="0.0311" stop-color="#1074d3"/><stop offset="0.0356" stop-color="#1052d2"/><stop offset="0.04" stop-color="#0d30c6"/><stop offset="0.0444" stop-color="#0816b4"/><stop offset="0.0489" stop-color="#0811a6"/><stop offset="0.0533" stop-color="#0810a4"/><stop offset="0.0578" stop-color="#0813aa"/><stop offset="0.0622" stop-color="#0817b6"/><stop offset="0.0711" stop-color="#0d33c8"/><stop offset="0.0844" stop-color="#1043d0"/><stop offset="0.1333" stop-color="#106bd4"/><stop offset="0.2222" stop-color="#1083cf"/><stop offset="0.44" stop-color="#10acbb"/><stop offset="0.8044" stop-color="#10bf9c"/><stop offset="1" stop-color="#10c391"/></linearGradient>
<linearGradient id="q42" gradientUnits="userSpaceOnUse" x1="89.5" x2="314.5" y1="0" y2="0"><stop offset="0" stop-color="#10c490"/><stop offset="0.0089" stop-color="#10b4b1"/><stop offset="0.0178" stop-color="#10a9bf"/><stop offset="0.0311" stop-color="#1084cf"/><stop offset="0.04" stop-color="#1063d3"/><stop offset="0.0489" stop-color="#1040d0"/><stop offset="0.0533" stop-color="#0f3acc"/><stop offset="0.0711" stop-color="#1042d0"/><stop offset="0.1022" stop-color="#1056d2"/><stop offset="0.1333" stop-color="#106fd4"/><stop offset="0.3467" stop-color="#109ec5"/><stop offset="0.4711" stop-color="#10b0b6"/><stop offset="0.8844" stop-color="#10c197"/><stop offset="1" stop-color="#10c491"/></linearGradient>
<linearGradient id="q43" gradientUnits="userSpaceOnUse" x1="89.5" x2="314.5" y1="0" y2="0"><stop offset="0" stop-color="#10bba5"/><stop offset="0.0044" stop-color="#10b5b0"/><stop offset="0.0178" stop-color="#10aabd"/><stop offset="0.0311" stop-color="#108ccd"/><stop offset="0.0444" stop-color="#106ad4"/><stop offset="0.0489" stop-color="#105ed2"/><stop offset="0.0578" stop-color="#1053d2"/><stop offset="0.08" stop-color="#1051d1"/><stop offset="0.1067" stop-color="#1061d3"/><stop offset="0.1333" stop-color="#1072d3"/><stop offset="0.3689" stop-color="#10a4c2"/><stop offset="0.5067" stop-color="#10b2b3"/><stop offset="0.8844" stop-color="#10c197"/><stop offset="1" stop-color="#10c491"/></linearGradient>
<linearGradient id="q44" gradientUnits="userSpaceOnUse" x1="89.5" x2="314.5" y1="0" y2="0"><stop offset="0" stop-color="#10b7ae"/><stop offset="0.0178" stop-color="#10acbb"/><stop offset="0.0311" stop-color="#1091cb"/><stop offset="0.0489" stop-color="#106bd4"/><stop offset="0.0578" stop-color="#1062d3"/><stop offset="0.08" stop-color="#105ed2"/><stop offset="0.1067" stop-color="#1068d3"/><stop offset="0.1422" stop-color="#1078d2"/><stop offset="0.3867" stop-color="#10a8c0"/><stop offset="0.5244" stop-color="#10b4b1"/><stop offset="0.88" stop-color="#10c197"/><stop offset="1" stop-color="#10c490"/></linearGradient>
<linearGradient id="q45" gradientUnits="userSpaceOnUse" x1="89.5" x2="314.5" y1="0" y2="0"><stop offset="0" stop-color="#10b7ad"/><stop offset="0.0178" stop-color="#10aeb9"/><stop offset="0.0311" stop-color="#1096c9"/><stop offset="0.0489" stop-color="#1074d3"/><stop offset="0.0667" stop-color="#106bd4"/><stop offset="0.1022" stop-color="#106cd4"/><stop offset="0.1644" stop-color="#1080d0"/><stop offset="0.3956" stop-color="#10aabd"/><stop offset="0.5467" stop-color="#10b6af"/><stop offset="0.8711" stop-color="#10c197"/><stop offset="1" stop-color="#10c490"/></linearGradient>
<linearGradient id="q46" gradientUnits="userSpaceOnUse" x1="89.5" x2="314.5" y1="0" y2="0"><stop offset="0" stop-color="#10b8ac"/><stop offset="0.0178" stop-color="#10afb7"/><stop offset="0.0311" stop-color="#1099c7"/><stop offset="0.0489" stop-color="#107bd1"/><stop offset="0.0711" stop-color="#1073d3"/><stop offset="0.1067" stop-color="#1074d3"/><stop offset="0.3378" stop-color="#10a2c3"/><stop offset="0.4978" stop-color="#10b4b1"/><stop offset="0.8711" stop-color="#10c196"/><stop offset="1" stop-color="#10c490"/></linearGradient>
<linearGradient id="q47" gradientUnits="userSpaceOnUse" x1="89.5" x2="314.5" y1="0" y2="0"><stop offset="0" stop-color="#10b8ab"/><stop offset="0.0178" stop-color="#10b0b6"/><stop offset="0.0311" stop-color="#109cc6"/><stop offset="0.0489" stop-color="#1080d0"/><stop offset="0.0756" stop-color="#1078d2"/><stop offset="0.1111" stop-color="#1078d2"/><stop offset="0.3689" stop-color="#10a9bf"/><stop offset="0.5156" stop-color="#10b5af"/><stop offset="0.8667" stop-color="#10c196"/><stop offset="1" stop-color="#10c48f"/></linearGradient>
<linearGradient id="q48" gradientUnits="userSpaceOnUse" x1="89.5" x2="314.5" y1="0" y2="0"><stop offset="0" stop-color="#10b9aa"/><stop offset="0.0178" stop-color="#10b1b5"/><stop offset="0.0311" stop-color="#109ec5"/><stop offset="0.0489" stop-color="#1083cf"/><stop offset="0.0844" stop-color="#107bd1"/><stop offset="0.1156" stop-color="#107cd1"/><stop offset="0.3689" stop-color="#10aabe"/><stop offset="0.52" stop-color="#10b6ae"/><stop offset="0.8622" stop-color="#10c296"/><stop offset="1" stop-color="#10c48f"/></linearGradient>
<linearGradient id="q49" gradientUnits="userSpaceOnUse" x1="89.5" x2="314.5" y1="0" y2="0"><stop offset="0" stop-color="#10b9a9"/><stop offset="0.0178" stop-color="#10b2b4"/><stop offset="0.0311" stop-color="#10a0c4"/><stop offset="0.0533" stop-color="#1082cf"/><stop offset="0.1067" stop-color="#107dd1"/><stop offset="0.36" stop-color="#10a9be"/><stop offset="0.5156" stop-color="#10b6ae"/><stop offset="0.8578" stop-color="#10c295"/><stop offset="1" stop-color="#10c48f"/></linearGradient>
<linearGradient id="q50" gradientUnits="userSpaceOnUse" x1="89.5" x2="314.5" y1="0" y2="0"><stop offset="0" stop-color="#10baa8"/><stop offset="0.0178" stop-color="#10b2b3"/><stop offset="0.0311" stop-color="#10a1c3"/><stop offset="0.0533" stop-color="#1085cf"/><stop offset="0.1067" stop-color="#107fd0"/><stop offset="0.3644" stop-color="#10abbd"/><stop offset="0.52" stop-color="#10b7ad"/><stop offset="0.8578" stop-color="#10c295"/><stop offset="1" stop-color="#10c48f"/></linearGradient>
<linearGradient id="q51" gradientUnits="userSpaceOnUse" x1="89.5" x2="314.5" y1="0" y2="0"><stop offset="0" stop-color="#10baa7"/><stop offset="0.0178" stop-color="#10b3b2"/><stop offset="0.0311" stop-color="#10a3c3"/><stop offset="0.0533" stop-color="#1087ce"/><stop offset="0.1067" stop-color="#1081d0"/><stop offset="0.3689" stop-color="#10acbb"/><stop offset="0.5333" stop-color="#10b8ab"/><stop offset="0.8533" stop-color="#10c295"/><stop offset="1" stop-color="#10c48e"/></linearGradient>
<linearGradient id="q52" gradientUnits="userSpaceOnUse" x1="89.5" x2="314.5" y1="0" y2="0"><stop offset="0" stop-color="#10b8ad"/><stop offset="0.0178" stop-color="#10b0b6"/><stop offset="0.0311" stop-color="#109fc5"/><stop offset="0.0533" stop-color="#1083cf"/><stop offset="0.1067" stop-color="#107ed1"/><stop offset="0.3778" stop-color="#10aabe"/><stop offset="0.5378" stop-color="#10b6af"/><stop offset="0.9111" stop-color="#10c198"/><stop offset="1" stop-color="#10c294"/></linearGradient>
<linearGradient id="q53" gradientUnits="userSpaceOnUse" x1="89.5" x2="314.5" y1="0" y2="0"><stop offset="0" stop-color="#10b7ae"/><stop offset="0.0178" stop-color="#10afb7"/><stop offset="0.0311" stop-color="#109ec5"/><stop offset="0.0533" stop-color="#1083cf"/><stop offset="0.1067" stop-color="#107ed1"/><stop offset="0.3822" stop-color="#10aabe"/><stop offset="0.5511" stop-color="#10b5af"/><stop offset="0.9422" stop-color="#10c098"/><stop offset="1" stop-color="#10c196"/></linearGradient>
<linearGradient id="q54" gradientUnits="userSpaceOnUse" x1="89.5" x2="314.5" y1="0" y2="0"><stop offset="0" stop-color="#10b7ad"/><stop offset="0.0178" stop-color="#10b0b6"/><stop offset="0.0311" stop-color="#10a0c4"/><stop offset="0.0533" stop-color="#1085cf"/><stop offset="0.1067" stop-color="#1080d0"/><stop offset="0.3867" stop-color="#10abbc"/><stop offset="0.5689" stop-color="#10b7ae"/><stop offset="0.9289" stop-color="#10c099"/><stop offset="1" stop-color="#10c296"/></linearGradient>
<linearGradient id="q55" gradientUnits="userSpaceOnUse" x1="89.5" x2="314.5" y1="0" y2="0"><stop offset="0" stop-color="#10b8ad"/><stop offset="0.0178" stop-color="#10b1b5"/><stop offset="0.0311" stop-color="#10a1c4"/><stop offset="0.0533" stop-color="#1087ce"/><stop offset="0.1067" stop-color="#1082d0"/><stop offset="0.3956" stop-color="#10adba"/><stop offset="0.7244" stop-color="#10bca2"/><stop offset="1" stop-color="#10c295"/></linearGradient>
<linearGradient id="q56" gradientUnits="userSpaceOnUse" x1="89.5" x2="314.5" y1="0" y2="0"><stop offset="0" stop-color="#10b8ac"/><stop offset="0.0178" stop-color="#10b1b5"/><stop offset="0.0311" stop-color="#10a2c3"/><stop offset="0.0533" stop-color="#1089ce"/><stop offset="0.1111" stop-color="#1085cf"/><stop offset="0.3911" stop-color="#10adba"/><stop offset="0.6844" stop-color="#10bba4"/><stop offset="1" stop-color="#10c295"/></linearGradient></defs>
<clipPath id="fc2"><rect x="89.50" y="189.30" width="224.20" height="56.30"/></clipPath>
<g clip-path="url(#fc2)">
<rect x="89" y="189" width="226" height="1" fill="url(#q0)"/>
<rect x="89" y="190" width="226" height="1" fill="url(#q1)"/>
<rect x="89" y="191" width="226" height="1" fill="url(#q2)"/>
<rect x="89" y="192" width="226" height="1" fill="url(#q3)"/>
<rect x="89" y="193" width="226" height="1" fill="url(#q4)"/>
<rect x="89" y="194" width="226" height="1" fill="url(#q5)"/>
<rect x="89" y="195" width="226" height="1" fill="url(#q6)"/>
<rect x="89" y="196" width="226" height="1" fill="url(#q7)"/>
<rect x="89" y="197" width="226" height="1" fill="url(#q8)"/>
<rect x="89" y="198" width="226" height="1" fill="url(#q9)"/>
<rect x="89" y="199" width="226" height="1" fill="url(#q10)"/>
<rect x="89" y="200" width="226" height="1" fill="url(#q11)"/>
<rect x="89" y="201" width="226" height="1" fill="url(#q12)"/>
<rect x="89" y="202" width="226" height="1" fill="url(#q13)"/>
<rect x="89" y="203" width="226" height="1" fill="url(#q14)"/>
<rect x="89" y="204" width="226" height="1" fill="url(#q15)"/>
<rect x="89" y="205" width="226" height="1" fill="url(#q16)"/>
<rect x="89" y="206" width="226" height="1" fill="url(#q17)"/>
<rect x="89" y="207" width="226" height="1" fill="url(#q18)"/>
<rect x="89" y="208" width="226" height="1" fill="url(#q19)"/>
<rect x="89" y="209" width="226" height="1" fill="url(#q20)"/>
<rect x="89" y="210" width="226" height="1" fill="url(#q21)"/>
<rect x="89" y="211" width="226" height="1" fill="url(#q22)"/>
<rect x="89" y="212" width="226" height="1" fill="url(#q23)"/>
<rect x="89" y="213" width="226" height="1" fill="url(#q24)"/>
<rect x="89" y="214" width="226" height="1" fill="url(#q25)"/>
<rect x="89" y="215" width="226" height="1" fill="url(#q26)"/>
<rect x="89" y="216" width="226" height="1" fill="url(#q27)"/>
<rect x="89" y="217" width="226" height="1" fill="url(#q28)"/>
<rect x="89" y="218" width="226" height="1" fill="url(#q29)"/>
<rect x="89" y="219" width="226" height="1" fill="url(#q30)"/>
<rect x="89" y="220" width="226" height="1" fill="url(#q31)"/>
<rect x="89" y="221" width="226" height="1" fill="url(#q32)"/>
<rect x="89" y="222" width="226" height="1" fill="url(#q33)"/>
<rect x="89" y="223" width="226" height="1" fill="url(#q34)"/>
<rect x="89" y="224" width="226" height="1" fill="url(#q35)"/>
<rect x="89" y="225" width="226" height="1" fill="url(#q36)"/>
<rect x="89" y="226" width="226" height="1" fill="url(#q37)"/>
<rect x="89" y="227" width="226" height="1" fill="url(#q38)"/>
<rect x="89" y="228" width="226" height="1" fill="url(#q39)"/>
<rect x="89" y="229" width="226" height="1" fill="url(#q40)"/>
<rect x="89" y="230" width="226" height="1" fill="url(#q41)"/>
<rect x="89" y="231" width="226" height="1" fill="url(#q42)"/>
<rect x="89" y="232" width="226" height="1" fill="url(#q43)"/>
<rect x="89" y="233" width="226" height="1" fill="url(#q44)"/>
<rect x="89" y="234" width="226" height="1" fill="url(#q45)"/>
<rect x="89" y="235" width="226" height="1" fill="url(#q46)"/>
<rect x="89" y="236" width="226" height="1" fill="url(#q47)"/>
<rect x="89" y="237" width="226" height="1" fill="url(#q48)"/>
<rect x="89" y="238" width="226" height="1" fill="url(#q49)"/>
<rect x="89" y="239" width="226" height="1" fill="url(#q50)"/>
<rect x="89" y="240" width="226" height="1" fill="url(#q51)"/>
<rect x="89" y="241" width="226" height="1" fill="url(#q52)"/>
<rect x="89" y="242" width="226" height="1" fill="url(#q53)"/>
<rect x="89" y="243" width="226" height="1" fill="url(#q54)"/>
<rect x="89" y="244" width="226" height="1" fill="url(#q55)"/>
<rect x="89" y="245" width="226" height="1" fill="url(#q56)"/>
<path d="M96.20,226.60 C96.30,226.27 96.42,225.30 96.80,224.60 C97.18,223.90 97.72,223.17 98.50,222.40 C99.28,221.63 100.08,220.83 101.50,220.00 C102.92,219.17 104.58,218.25 107.00,217.40 C109.42,216.55 112.17,215.70 116.00,214.90 C119.83,214.10 124.67,213.25 130.00,212.60 C135.33,211.95 143.00,211.33 148.00,211.00 C153.00,210.67 154.67,210.53 160.00,210.60 C165.33,210.67 174.00,211.05 180.00,211.40 C186.00,211.75 191.00,212.25 196.00,212.70 C201.00,213.15 205.17,213.47 210.00,214.10 C214.83,214.73 220.00,215.62 225.00,216.50 C230.00,217.38 236.17,218.60 240.00,219.40 C243.83,220.20 245.53,220.73 248.00,221.30 C250.47,221.87 253.67,222.55 254.80,222.80 L254.80,222.80 C252.33,222.77 247.47,222.63 240.00,222.60 C232.53,222.57 220.00,222.50 210.00,222.60 C200.00,222.70 190.33,222.87 180.00,223.20 C169.67,223.53 156.33,224.10 148.00,224.60 C139.67,225.10 135.50,225.70 130.00,226.20 C124.50,226.70 119.33,227.23 115.00,227.60 C110.67,227.97 106.58,228.28 104.00,228.40 C101.42,228.52 100.67,228.42 99.50,228.30 C98.33,228.18 97.55,227.98 97.00,227.70 C96.45,227.42 96.33,226.78 96.20,226.60Z" fill="#fff"/>
</g></g>
<rect x="324.80" y="116.70" width="4.6" height="58.40" fill="url(#rb)"/>
<line x1="329.40" y1="117.00" x2="332.40" y2="117.00" stroke="#999" stroke-width="0.45"/>
<line x1="329.40" y1="122.78" x2="331.60" y2="122.78" stroke="#999" stroke-width="0.45"/>
<line x1="329.40" y1="128.56" x2="331.60" y2="128.56" stroke="#999" stroke-width="0.45"/>
<line x1="329.40" y1="134.34" x2="331.60" y2="134.34" stroke="#999" stroke-width="0.45"/>
<line x1="329.40" y1="140.12" x2="331.60" y2="140.12" stroke="#999" stroke-width="0.45"/>
<line x1="329.40" y1="145.90" x2="332.40" y2="145.90" stroke="#999" stroke-width="0.45"/>
<line x1="329.40" y1="151.68" x2="331.60" y2="151.68" stroke="#999" stroke-width="0.45"/>
<line x1="329.40" y1="157.46" x2="331.60" y2="157.46" stroke="#999" stroke-width="0.45"/>
<line x1="329.40" y1="163.24" x2="331.60" y2="163.24" stroke="#999" stroke-width="0.45"/>
<line x1="329.40" y1="169.02" x2="331.60" y2="169.02" stroke="#999" stroke-width="0.45"/>
<line x1="329.40" y1="174.80" x2="332.40" y2="174.80" stroke="#999" stroke-width="0.45"/>
<text x="337.40" y="120.70" font-size="11.8" fill="#000" stroke="#000" stroke-width="0.2" textLength="18.8" lengthAdjust="spacingAndGlyphs">74.0</text>
<text x="337.40" y="149.60" font-size="11.8" fill="#000" stroke="#000" stroke-width="0.2" textLength="18.8" lengthAdjust="spacingAndGlyphs">37.0</text>
<text x="337.40" y="175.90" font-size="11.8" fill="#000" stroke="#000" stroke-width="0.2" textLength="18.8" lengthAdjust="spacingAndGlyphs">00.0</text>
<rect x="323.10" y="189.50" width="4.6" height="57.00" fill="url(#rb)"/>
<line x1="327.70" y1="189.80" x2="330.70" y2="189.80" stroke="#999" stroke-width="0.45"/>
<line x1="327.70" y1="195.44" x2="329.90" y2="195.44" stroke="#999" stroke-width="0.45"/>
<line x1="327.70" y1="201.08" x2="329.90" y2="201.08" stroke="#999" stroke-width="0.45"/>
<line x1="327.70" y1="206.72" x2="329.90" y2="206.72" stroke="#999" stroke-width="0.45"/>
<line x1="327.70" y1="212.36" x2="329.90" y2="212.36" stroke="#999" stroke-width="0.45"/>
<line x1="327.70" y1="218.00" x2="330.70" y2="218.00" stroke="#999" stroke-width="0.45"/>
<line x1="327.70" y1="223.64" x2="329.90" y2="223.64" stroke="#999" stroke-width="0.45"/>
<line x1="327.70" y1="229.28" x2="329.90" y2="229.28" stroke="#999" stroke-width="0.45"/>
<line x1="327.70" y1="234.92" x2="329.90" y2="234.92" stroke="#999" stroke-width="0.45"/>
<line x1="327.70" y1="240.56" x2="329.90" y2="240.56" stroke="#999" stroke-width="0.45"/>
<line x1="327.70" y1="246.20" x2="330.70" y2="246.20" stroke="#999" stroke-width="0.45"/>
<text x="335.70" y="193.10" font-size="11.8" fill="#000" stroke="#000" stroke-width="0.2" textLength="18.8" lengthAdjust="spacingAndGlyphs">74.0</text>
<text x="335.70" y="222.50" font-size="11.8" fill="#000" stroke="#000" stroke-width="0.2" textLength="18.8" lengthAdjust="spacingAndGlyphs">37.0</text>
<text x="335.70" y="247.30" font-size="11.8" fill="#000" stroke="#000" stroke-width="0.2" textLength="18.8" lengthAdjust="spacingAndGlyphs">00.0</text>
</svg></body></html>
